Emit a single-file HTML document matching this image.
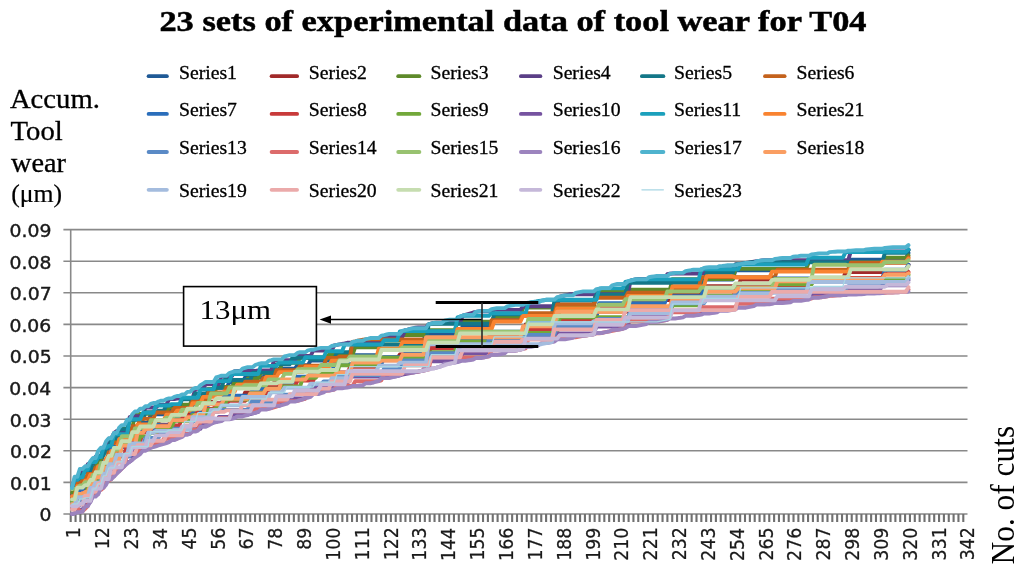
<!DOCTYPE html><html><head><meta charset="utf-8"><style>html,body{margin:0;padding:0;background:#fff;overflow:hidden;}svg{display:block;filter:blur(0.4px);}</style></head><body>
<svg width="1024" height="572" viewBox="0 0 1024 572">
<rect width="1024" height="572" fill="#fff"/>
<text transform="translate(159.44,31.30) scale(1.1454,1)" font-family='"Liberation Serif", "Times New Roman", serif' font-weight="bold" font-size="30.00" fill="#000" stroke="#000" stroke-width="0.5">23 sets of experimental data of tool wear for T04</text>
<line x1="148.6" y1="76.2" x2="166.9" y2="76.2" stroke="#1F5A96" stroke-width="3.8" stroke-linecap="round"/>
<text transform="translate(178.97,79.00) scale(1.0650,1)" font-family='"Liberation Serif", "Times New Roman", serif' font-size="18.50" fill="#000" stroke="#000" stroke-width="0.3">Series1</text>
<line x1="271.6" y1="76.2" x2="297.09999999999997" y2="76.2" stroke="#A12A2A" stroke-width="3.8" stroke-linecap="round"/>
<text transform="translate(308.87,79.00) scale(1.0650,1)" font-family='"Liberation Serif", "Times New Roman", serif' font-size="18.50" fill="#000" stroke="#000" stroke-width="0.3">Series2</text>
<line x1="398.20000000000005" y1="76.2" x2="419.4" y2="76.2" stroke="#5E8A2A" stroke-width="3.8" stroke-linecap="round"/>
<text transform="translate(430.57,79.00) scale(1.0650,1)" font-family='"Liberation Serif", "Times New Roman", serif' font-size="18.50" fill="#000" stroke="#000" stroke-width="0.3">Series3</text>
<line x1="520.9" y1="76.2" x2="540.4" y2="76.2" stroke="#5B3F87" stroke-width="3.8" stroke-linecap="round"/>
<text transform="translate(552.67,79.00) scale(1.0650,1)" font-family='"Liberation Serif", "Times New Roman", serif' font-size="18.50" fill="#000" stroke="#000" stroke-width="0.3">Series4</text>
<line x1="641.9" y1="76.2" x2="663.4" y2="76.2" stroke="#137788" stroke-width="3.8" stroke-linecap="round"/>
<text transform="translate(674.07,79.00) scale(1.0650,1)" font-family='"Liberation Serif", "Times New Roman", serif' font-size="18.50" fill="#000" stroke="#000" stroke-width="0.3">Series5</text>
<line x1="765.0" y1="76.2" x2="784.6" y2="76.2" stroke="#C4621C" stroke-width="3.8" stroke-linecap="round"/>
<text transform="translate(796.47,79.00) scale(1.0650,1)" font-family='"Liberation Serif", "Times New Roman", serif' font-size="18.50" fill="#000" stroke="#000" stroke-width="0.3">Series6</text>
<line x1="148.6" y1="113.9" x2="166.9" y2="113.9" stroke="#2A6EBB" stroke-width="3.8" stroke-linecap="round"/>
<text transform="translate(178.97,115.80) scale(1.0650,1)" font-family='"Liberation Serif", "Times New Roman", serif' font-size="18.50" fill="#000" stroke="#000" stroke-width="0.3">Series7</text>
<line x1="271.6" y1="113.9" x2="297.09999999999997" y2="113.9" stroke="#C83A3A" stroke-width="3.8" stroke-linecap="round"/>
<text transform="translate(308.87,115.80) scale(1.0650,1)" font-family='"Liberation Serif", "Times New Roman", serif' font-size="18.50" fill="#000" stroke="#000" stroke-width="0.3">Series8</text>
<line x1="398.20000000000005" y1="113.9" x2="419.4" y2="113.9" stroke="#72A83A" stroke-width="3.8" stroke-linecap="round"/>
<text transform="translate(430.57,115.80) scale(1.0650,1)" font-family='"Liberation Serif", "Times New Roman", serif' font-size="18.50" fill="#000" stroke="#000" stroke-width="0.3">Series9</text>
<line x1="520.9" y1="113.9" x2="540.4" y2="113.9" stroke="#7653A0" stroke-width="3.8" stroke-linecap="round"/>
<text transform="translate(552.67,115.80) scale(1.0650,1)" font-family='"Liberation Serif", "Times New Roman", serif' font-size="18.50" fill="#000" stroke="#000" stroke-width="0.3">Series10</text>
<line x1="641.9" y1="113.9" x2="663.4" y2="113.9" stroke="#1BA0BC" stroke-width="3.8" stroke-linecap="round"/>
<text transform="translate(674.07,115.80) scale(1.0650,1)" font-family='"Liberation Serif", "Times New Roman", serif' font-size="18.50" fill="#000" stroke="#000" stroke-width="0.3">Series11</text>
<line x1="765.0" y1="113.9" x2="784.6" y2="113.9" stroke="#F98330" stroke-width="3.8" stroke-linecap="round"/>
<text transform="translate(796.47,115.80) scale(1.0650,1)" font-family='"Liberation Serif", "Times New Roman", serif' font-size="18.50" fill="#000" stroke="#000" stroke-width="0.3">Series21</text>
<line x1="148.6" y1="152" x2="166.9" y2="152" stroke="#5A8AC6" stroke-width="3.8" stroke-linecap="round"/>
<text transform="translate(178.97,154.40) scale(1.0650,1)" font-family='"Liberation Serif", "Times New Roman", serif' font-size="18.50" fill="#000" stroke="#000" stroke-width="0.3">Series13</text>
<line x1="271.6" y1="152" x2="297.09999999999997" y2="152" stroke="#DC6B6B" stroke-width="3.8" stroke-linecap="round"/>
<text transform="translate(308.87,154.40) scale(1.0650,1)" font-family='"Liberation Serif", "Times New Roman", serif' font-size="18.50" fill="#000" stroke="#000" stroke-width="0.3">Series14</text>
<line x1="398.20000000000005" y1="152" x2="419.4" y2="152" stroke="#98C270" stroke-width="3.8" stroke-linecap="round"/>
<text transform="translate(430.57,154.40) scale(1.0650,1)" font-family='"Liberation Serif", "Times New Roman", serif' font-size="18.50" fill="#000" stroke="#000" stroke-width="0.3">Series15</text>
<line x1="520.9" y1="152" x2="540.4" y2="152" stroke="#9C84BE" stroke-width="3.8" stroke-linecap="round"/>
<text transform="translate(552.67,154.40) scale(1.0650,1)" font-family='"Liberation Serif", "Times New Roman", serif' font-size="18.50" fill="#000" stroke="#000" stroke-width="0.3">Series16</text>
<line x1="641.9" y1="152" x2="663.4" y2="152" stroke="#4FB3CE" stroke-width="3.8" stroke-linecap="round"/>
<text transform="translate(674.07,154.40) scale(1.0650,1)" font-family='"Liberation Serif", "Times New Roman", serif' font-size="18.50" fill="#000" stroke="#000" stroke-width="0.3">Series17</text>
<line x1="765.0" y1="152" x2="784.6" y2="152" stroke="#FA9E62" stroke-width="3.8" stroke-linecap="round"/>
<text transform="translate(796.47,154.40) scale(1.0650,1)" font-family='"Liberation Serif", "Times New Roman", serif' font-size="18.50" fill="#000" stroke="#000" stroke-width="0.3">Series18</text>
<line x1="148.6" y1="189.8" x2="166.9" y2="189.8" stroke="#A4BCDE" stroke-width="3.8" stroke-linecap="round"/>
<text transform="translate(178.97,197.00) scale(1.0650,1)" font-family='"Liberation Serif", "Times New Roman", serif' font-size="18.50" fill="#000" stroke="#000" stroke-width="0.3">Series19</text>
<line x1="271.6" y1="189.8" x2="297.09999999999997" y2="189.8" stroke="#EBAAAA" stroke-width="3.8" stroke-linecap="round"/>
<text transform="translate(308.87,197.00) scale(1.0650,1)" font-family='"Liberation Serif", "Times New Roman", serif' font-size="18.50" fill="#000" stroke="#000" stroke-width="0.3">Series20</text>
<line x1="398.20000000000005" y1="189.8" x2="419.4" y2="189.8" stroke="#C6DDB0" stroke-width="3.8" stroke-linecap="round"/>
<text transform="translate(430.57,197.00) scale(1.0650,1)" font-family='"Liberation Serif", "Times New Roman", serif' font-size="18.50" fill="#000" stroke="#000" stroke-width="0.3">Series21</text>
<line x1="520.9" y1="189.8" x2="540.4" y2="189.8" stroke="#C5B8D9" stroke-width="3.8" stroke-linecap="round"/>
<text transform="translate(552.67,197.00) scale(1.0650,1)" font-family='"Liberation Serif", "Times New Roman", serif' font-size="18.50" fill="#000" stroke="#000" stroke-width="0.3">Series22</text>
<line x1="641.9" y1="189.8" x2="663.4" y2="189.8" stroke="#A8D6E4" stroke-width="1.2" stroke-linecap="round"/>
<text transform="translate(674.07,197.00) scale(1.0650,1)" font-family='"Liberation Serif", "Times New Roman", serif' font-size="18.50" fill="#000" stroke="#000" stroke-width="0.3">Series23</text>
<text transform="translate(9.91,108.30) scale(1.0550,1)" font-family='"Liberation Serif", "Times New Roman", serif' font-size="27.20" fill="#000" stroke="#000" stroke-width="0.3">Accum.</text>
<text transform="translate(10.60,140.10) scale(1.0550,1)" font-family='"Liberation Serif", "Times New Roman", serif' font-size="27.20" fill="#000" stroke="#000" stroke-width="0.3">Tool</text>
<text transform="translate(11.10,172.00) scale(1.0400,1)" font-family='"Liberation Serif", "Times New Roman", serif' font-size="27.20" fill="#000" stroke="#000" stroke-width="0.3">wear</text>
<text transform="translate(11.21,201.50) scale(1.0554,1)" font-family='"Liberation Serif", "Times New Roman", serif' font-size="24.40" fill="#000" stroke="#000" stroke-width="0.2">(μm)</text>
<line x1="63.4" y1="514.00" x2="967.50" y2="514.00" stroke="#898989" stroke-width="1.6"/>
<line x1="63.4" y1="482.40" x2="967.50" y2="482.40" stroke="#898989" stroke-width="1.6"/>
<line x1="63.4" y1="450.80" x2="967.50" y2="450.80" stroke="#898989" stroke-width="1.6"/>
<line x1="63.4" y1="419.20" x2="967.50" y2="419.20" stroke="#898989" stroke-width="1.6"/>
<line x1="63.4" y1="387.60" x2="967.50" y2="387.60" stroke="#898989" stroke-width="1.6"/>
<line x1="63.4" y1="356.00" x2="967.50" y2="356.00" stroke="#898989" stroke-width="1.6"/>
<line x1="63.4" y1="324.40" x2="967.50" y2="324.40" stroke="#898989" stroke-width="1.6"/>
<line x1="63.4" y1="292.80" x2="967.50" y2="292.80" stroke="#898989" stroke-width="1.6"/>
<line x1="63.4" y1="261.20" x2="967.50" y2="261.20" stroke="#898989" stroke-width="1.6"/>
<line x1="63.4" y1="229.60" x2="967.50" y2="229.60" stroke="#898989" stroke-width="1.6"/>
<line x1="70.7" y1="229.60" x2="70.7" y2="514.0" stroke="#898989" stroke-width="1.6"/>
<path d="M70.70 514.0V522M75.55 514.0V522M80.40 514.0V522M85.25 514.0V522M90.10 514.0V522M94.96 514.0V522M99.81 514.0V522M104.66 514.0V522M109.51 514.0V522M114.36 514.0V522M119.21 514.0V522M124.06 514.0V522M128.91 514.0V522M133.76 514.0V522M138.62 514.0V522M143.47 514.0V522M148.32 514.0V522M153.17 514.0V522M158.02 514.0V522M162.87 514.0V522M167.72 514.0V522M172.57 514.0V522M177.42 514.0V522M182.28 514.0V522M187.13 514.0V522M191.98 514.0V522M196.83 514.0V522M201.68 514.0V522M206.53 514.0V522M211.38 514.0V522M216.23 514.0V522M221.08 514.0V522M225.94 514.0V522M230.79 514.0V522M235.64 514.0V522M240.49 514.0V522M245.34 514.0V522M250.19 514.0V522M255.04 514.0V522M259.89 514.0V522M264.74 514.0V522M269.60 514.0V522M274.45 514.0V522M279.30 514.0V522M284.15 514.0V522M289.00 514.0V522M293.85 514.0V522M298.70 514.0V522M303.55 514.0V522M308.40 514.0V522M313.26 514.0V522M318.11 514.0V522M322.96 514.0V522M327.81 514.0V522M332.66 514.0V522M337.51 514.0V522M342.36 514.0V522M347.21 514.0V522M352.06 514.0V522M356.92 514.0V522M361.77 514.0V522M366.62 514.0V522M371.47 514.0V522M376.32 514.0V522M381.17 514.0V522M386.02 514.0V522M390.87 514.0V522M395.72 514.0V522M400.58 514.0V522M405.43 514.0V522M410.28 514.0V522M415.13 514.0V522M419.98 514.0V522M424.83 514.0V522M429.68 514.0V522M434.53 514.0V522M439.38 514.0V522M444.24 514.0V522M449.09 514.0V522M453.94 514.0V522M458.79 514.0V522M463.64 514.0V522M468.49 514.0V522M473.34 514.0V522M478.19 514.0V522M483.04 514.0V522M487.90 514.0V522M492.75 514.0V522M497.60 514.0V522M502.45 514.0V522M507.30 514.0V522M512.15 514.0V522M517.00 514.0V522M521.85 514.0V522M526.70 514.0V522M531.56 514.0V522M536.41 514.0V522M541.26 514.0V522M546.11 514.0V522M550.96 514.0V522M555.81 514.0V522M560.66 514.0V522M565.51 514.0V522M570.36 514.0V522M575.22 514.0V522M580.07 514.0V522M584.92 514.0V522M589.77 514.0V522M594.62 514.0V522M599.47 514.0V522M604.32 514.0V522M609.17 514.0V522M614.02 514.0V522M618.88 514.0V522M623.73 514.0V522M628.58 514.0V522M633.43 514.0V522M638.28 514.0V522M643.13 514.0V522M647.98 514.0V522M652.83 514.0V522M657.68 514.0V522M662.54 514.0V522M667.39 514.0V522M672.24 514.0V522M677.09 514.0V522M681.94 514.0V522M686.79 514.0V522M691.64 514.0V522M696.49 514.0V522M701.34 514.0V522M706.20 514.0V522M711.05 514.0V522M715.90 514.0V522M720.75 514.0V522M725.60 514.0V522M730.45 514.0V522M735.30 514.0V522M740.15 514.0V522M745.00 514.0V522M749.86 514.0V522M754.71 514.0V522M759.56 514.0V522M764.41 514.0V522M769.26 514.0V522M774.11 514.0V522M778.96 514.0V522M783.81 514.0V522M788.66 514.0V522M793.52 514.0V522M798.37 514.0V522M803.22 514.0V522M808.07 514.0V522M812.92 514.0V522M817.77 514.0V522M822.62 514.0V522M827.47 514.0V522M832.32 514.0V522M837.18 514.0V522M842.03 514.0V522M846.88 514.0V522M851.73 514.0V522M856.58 514.0V522M861.43 514.0V522M866.28 514.0V522M871.13 514.0V522M875.98 514.0V522M880.84 514.0V522M885.69 514.0V522M890.54 514.0V522M895.39 514.0V522M900.24 514.0V522M905.09 514.0V522M909.94 514.0V522M914.79 514.0V522M919.64 514.0V522M924.50 514.0V522M929.35 514.0V522M934.20 514.0V522M939.05 514.0V522M943.90 514.0V522M948.75 514.0V522M953.60 514.0V522M958.45 514.0V522M963.30 514.0V522" stroke="#707070" stroke-width="2.1" fill="none"/>
<text transform="translate(39.38,521.32) scale(1.1000,1)" font-family='"DejaVu Sans", Verdana, sans-serif' font-size="17.10" fill="#1a1a1a" stroke="#1a1a1a" stroke-width="0.4">0</text>
<text transform="translate(9.94,489.72) scale(1.1000,1)" font-family='"DejaVu Sans", Verdana, sans-serif' font-size="17.10" fill="#1a1a1a" stroke="#1a1a1a" stroke-width="0.4">0.01</text>
<text transform="translate(10.08,458.12) scale(1.1000,1)" font-family='"DejaVu Sans", Verdana, sans-serif' font-size="17.10" fill="#1a1a1a" stroke="#1a1a1a" stroke-width="0.4">0.02</text>
<text transform="translate(9.71,426.52) scale(1.1000,1)" font-family='"DejaVu Sans", Verdana, sans-serif' font-size="17.10" fill="#1a1a1a" stroke="#1a1a1a" stroke-width="0.4">0.03</text>
<text transform="translate(9.28,394.92) scale(1.1000,1)" font-family='"DejaVu Sans", Verdana, sans-serif' font-size="17.10" fill="#1a1a1a" stroke="#1a1a1a" stroke-width="0.4">0.04</text>
<text transform="translate(9.85,363.32) scale(1.1000,1)" font-family='"DejaVu Sans", Verdana, sans-serif' font-size="17.10" fill="#1a1a1a" stroke="#1a1a1a" stroke-width="0.4">0.05</text>
<text transform="translate(9.42,331.72) scale(1.1000,1)" font-family='"DejaVu Sans", Verdana, sans-serif' font-size="17.10" fill="#1a1a1a" stroke="#1a1a1a" stroke-width="0.4">0.06</text>
<text transform="translate(9.85,300.12) scale(1.1000,1)" font-family='"DejaVu Sans", Verdana, sans-serif' font-size="17.10" fill="#1a1a1a" stroke="#1a1a1a" stroke-width="0.4">0.07</text>
<text transform="translate(9.52,268.52) scale(1.1000,1)" font-family='"DejaVu Sans", Verdana, sans-serif' font-size="17.10" fill="#1a1a1a" stroke="#1a1a1a" stroke-width="0.4">0.08</text>
<text transform="translate(9.56,236.92) scale(1.1000,1)" font-family='"DejaVu Sans", Verdana, sans-serif' font-size="17.10" fill="#1a1a1a" stroke="#1a1a1a" stroke-width="0.4">0.09</text>
<text transform="translate(80.31,538.29) rotate(-90) scale(0.916,1)" font-family='"DejaVu Sans", Verdana, sans-serif' font-size="19.0" fill="#1a1a1a" stroke="#1a1a1a" stroke-width="0.25">1</text>
<text transform="translate(109.16,549.25) rotate(-90) scale(0.916,1)" font-family='"DejaVu Sans", Verdana, sans-serif' font-size="19.0" fill="#1a1a1a" stroke="#1a1a1a" stroke-width="0.25">12</text>
<text transform="translate(138.00,549.60) rotate(-90) scale(0.916,1)" font-family='"DejaVu Sans", Verdana, sans-serif' font-size="19.0" fill="#1a1a1a" stroke="#1a1a1a" stroke-width="0.25">23</text>
<text transform="translate(166.84,549.99) rotate(-90) scale(0.916,1)" font-family='"DejaVu Sans", Verdana, sans-serif' font-size="19.0" fill="#1a1a1a" stroke="#1a1a1a" stroke-width="0.25">34</text>
<text transform="translate(195.69,549.47) rotate(-90) scale(0.916,1)" font-family='"DejaVu Sans", Verdana, sans-serif' font-size="19.0" fill="#1a1a1a" stroke="#1a1a1a" stroke-width="0.25">45</text>
<text transform="translate(224.53,549.86) rotate(-90) scale(0.916,1)" font-family='"DejaVu Sans", Verdana, sans-serif' font-size="19.0" fill="#1a1a1a" stroke="#1a1a1a" stroke-width="0.25">56</text>
<text transform="translate(253.38,549.47) rotate(-90) scale(0.916,1)" font-family='"DejaVu Sans", Verdana, sans-serif' font-size="19.0" fill="#1a1a1a" stroke="#1a1a1a" stroke-width="0.25">67</text>
<text transform="translate(282.22,549.77) rotate(-90) scale(0.916,1)" font-family='"DejaVu Sans", Verdana, sans-serif' font-size="19.0" fill="#1a1a1a" stroke="#1a1a1a" stroke-width="0.25">78</text>
<text transform="translate(311.07,549.73) rotate(-90) scale(0.916,1)" font-family='"DejaVu Sans", Verdana, sans-serif' font-size="19.0" fill="#1a1a1a" stroke="#1a1a1a" stroke-width="0.25">89</text>
<text transform="translate(339.91,560.87) rotate(-90) scale(0.916,1)" font-family='"DejaVu Sans", Verdana, sans-serif' font-size="19.0" fill="#1a1a1a" stroke="#1a1a1a" stroke-width="0.25">100</text>
<text transform="translate(368.76,560.43) rotate(-90) scale(0.916,1)" font-family='"DejaVu Sans", Verdana, sans-serif' font-size="19.0" fill="#1a1a1a" stroke="#1a1a1a" stroke-width="0.25">111</text>
<text transform="translate(397.60,560.30) rotate(-90) scale(0.916,1)" font-family='"DejaVu Sans", Verdana, sans-serif' font-size="19.0" fill="#1a1a1a" stroke="#1a1a1a" stroke-width="0.25">122</text>
<text transform="translate(426.44,560.65) rotate(-90) scale(0.916,1)" font-family='"DejaVu Sans", Verdana, sans-serif' font-size="19.0" fill="#1a1a1a" stroke="#1a1a1a" stroke-width="0.25">133</text>
<text transform="translate(455.29,561.04) rotate(-90) scale(0.916,1)" font-family='"DejaVu Sans", Verdana, sans-serif' font-size="19.0" fill="#1a1a1a" stroke="#1a1a1a" stroke-width="0.25">144</text>
<text transform="translate(484.13,560.52) rotate(-90) scale(0.916,1)" font-family='"DejaVu Sans", Verdana, sans-serif' font-size="19.0" fill="#1a1a1a" stroke="#1a1a1a" stroke-width="0.25">155</text>
<text transform="translate(512.98,560.91) rotate(-90) scale(0.916,1)" font-family='"DejaVu Sans", Verdana, sans-serif' font-size="19.0" fill="#1a1a1a" stroke="#1a1a1a" stroke-width="0.25">166</text>
<text transform="translate(541.82,560.52) rotate(-90) scale(0.916,1)" font-family='"DejaVu Sans", Verdana, sans-serif' font-size="19.0" fill="#1a1a1a" stroke="#1a1a1a" stroke-width="0.25">177</text>
<text transform="translate(570.67,560.82) rotate(-90) scale(0.916,1)" font-family='"DejaVu Sans", Verdana, sans-serif' font-size="19.0" fill="#1a1a1a" stroke="#1a1a1a" stroke-width="0.25">188</text>
<text transform="translate(599.51,560.78) rotate(-90) scale(0.916,1)" font-family='"DejaVu Sans", Verdana, sans-serif' font-size="19.0" fill="#1a1a1a" stroke="#1a1a1a" stroke-width="0.25">199</text>
<text transform="translate(628.36,560.87) rotate(-90) scale(0.916,1)" font-family='"DejaVu Sans", Verdana, sans-serif' font-size="19.0" fill="#1a1a1a" stroke="#1a1a1a" stroke-width="0.25">210</text>
<text transform="translate(657.20,560.43) rotate(-90) scale(0.916,1)" font-family='"DejaVu Sans", Verdana, sans-serif' font-size="19.0" fill="#1a1a1a" stroke="#1a1a1a" stroke-width="0.25">221</text>
<text transform="translate(686.04,560.30) rotate(-90) scale(0.916,1)" font-family='"DejaVu Sans", Verdana, sans-serif' font-size="19.0" fill="#1a1a1a" stroke="#1a1a1a" stroke-width="0.25">232</text>
<text transform="translate(714.89,560.65) rotate(-90) scale(0.916,1)" font-family='"DejaVu Sans", Verdana, sans-serif' font-size="19.0" fill="#1a1a1a" stroke="#1a1a1a" stroke-width="0.25">243</text>
<text transform="translate(743.73,561.04) rotate(-90) scale(0.916,1)" font-family='"DejaVu Sans", Verdana, sans-serif' font-size="19.0" fill="#1a1a1a" stroke="#1a1a1a" stroke-width="0.25">254</text>
<text transform="translate(772.58,560.52) rotate(-90) scale(0.916,1)" font-family='"DejaVu Sans", Verdana, sans-serif' font-size="19.0" fill="#1a1a1a" stroke="#1a1a1a" stroke-width="0.25">265</text>
<text transform="translate(801.42,560.91) rotate(-90) scale(0.916,1)" font-family='"DejaVu Sans", Verdana, sans-serif' font-size="19.0" fill="#1a1a1a" stroke="#1a1a1a" stroke-width="0.25">276</text>
<text transform="translate(830.27,560.52) rotate(-90) scale(0.916,1)" font-family='"DejaVu Sans", Verdana, sans-serif' font-size="19.0" fill="#1a1a1a" stroke="#1a1a1a" stroke-width="0.25">287</text>
<text transform="translate(859.11,560.82) rotate(-90) scale(0.916,1)" font-family='"DejaVu Sans", Verdana, sans-serif' font-size="19.0" fill="#1a1a1a" stroke="#1a1a1a" stroke-width="0.25">298</text>
<text transform="translate(887.96,560.78) rotate(-90) scale(0.916,1)" font-family='"DejaVu Sans", Verdana, sans-serif' font-size="19.0" fill="#1a1a1a" stroke="#1a1a1a" stroke-width="0.25">309</text>
<text transform="translate(916.80,560.87) rotate(-90) scale(0.916,1)" font-family='"DejaVu Sans", Verdana, sans-serif' font-size="19.0" fill="#1a1a1a" stroke="#1a1a1a" stroke-width="0.25">320</text>
<text transform="translate(945.64,560.43) rotate(-90) scale(0.916,1)" font-family='"DejaVu Sans", Verdana, sans-serif' font-size="19.0" fill="#1a1a1a" stroke="#1a1a1a" stroke-width="0.25">331</text>
<text transform="translate(974.49,560.30) rotate(-90) scale(0.916,1)" font-family='"DejaVu Sans", Verdana, sans-serif' font-size="19.0" fill="#1a1a1a" stroke="#1a1a1a" stroke-width="0.25">342</text>
<text transform="translate(1014.2,564.46) rotate(-90) scale(0.937,1)" font-family='"Liberation Serif", "Times New Roman", serif' font-size="33.5" fill="#000">No. of cuts</text>
<path d="M72.0 495.0 L74.6 495.0 L77.3 485.1 L79.9 485.1 L82.5 480.4 L85.1 480.4 L87.7 480.4 L90.4 474.4 L93.0 474.4 L95.6 463.6 L98.2 463.6 L100.9 463.6 L103.5 451.7 L106.1 451.7 L108.7 451.7 L111.3 447.1 L114.0 447.1 L116.6 447.1 L119.2 447.1 L121.8 432.4 L124.5 432.4 L127.1 432.4 L129.7 432.4 L132.3 432.4 L134.9 432.4 L137.6 432.4 L140.2 423.0 L142.8 423.0 L145.4 423.0 L148.1 423.0 L150.7 414.2 L153.3 414.2 L155.9 414.2 L158.5 414.2 L161.2 414.2 L163.8 414.2 L166.4 414.2 L169.0 409.3 L171.7 409.3 L174.3 409.3 L176.9 409.3 L179.5 409.3 L182.1 409.3 L184.8 405.5 L187.4 405.5 L190.0 405.5 L192.6 405.5 L195.3 398.9 L197.9 398.9 L200.5 398.9 L203.1 396.2 L205.7 396.2 L208.4 396.2 L211.0 396.2 L213.6 387.9 L216.2 387.9 L218.9 387.9 L221.5 387.9 L224.1 387.9 L226.7 387.9 L229.3 382.3 L232.0 382.3 L234.6 382.3 L237.2 382.3 L239.8 382.3 L242.5 382.3 L245.1 377.3 L247.7 377.3 L250.3 377.3 L252.9 377.3 L255.6 377.3 L258.2 377.3 L260.8 377.3 L263.4 377.3 L266.1 373.3 L268.7 373.3 L271.3 373.3 L273.9 373.3 L276.5 373.3 L279.2 368.7 L281.8 368.7 L284.4 368.7 L287.0 368.7 L289.7 368.7 L292.3 368.7 L294.9 368.7 L297.5 365.2 L300.1 365.2 L302.8 365.2 L305.4 365.2 L308.0 365.2 L310.6 360.5 L313.3 360.5 L315.9 360.5 L318.5 360.5 L321.1 360.5 L323.7 360.5 L326.4 360.5 L329.0 360.5 L331.6 360.5 L334.2 360.5 L336.9 360.5 L339.5 356.3 L342.1 356.3 L344.7 356.3 L347.3 356.3 L350.0 356.3 L352.6 355.1 L355.2 355.1 L357.8 355.1 L360.5 355.1 L363.1 355.1 L365.7 355.1 L368.3 355.1 L370.9 355.1 L373.6 355.1 L376.2 355.1 L378.8 355.1 L381.4 348.6 L384.1 348.6 L386.7 348.6 L389.3 348.6 L391.9 348.6 L394.5 348.6 L397.2 348.6 L399.8 348.6 L402.4 348.6 L405.0 340.1 L407.7 340.1 L410.3 340.1 L412.9 340.1 L415.5 340.1 L418.1 340.1 L420.8 340.1 L423.4 340.1 L426.0 334.8 L428.6 334.8 L431.3 334.8 L433.9 334.8 L436.5 334.8 L439.1 334.8 L441.7 334.8 L444.4 334.8 L447.0 334.8 L449.6 334.8 L452.2 334.8 L454.9 334.8 L457.5 334.8 L460.1 334.8 L462.7 325.8 L465.3 325.8 L468.0 325.8 L470.6 325.8 L473.2 325.8 L475.8 325.8 L478.5 325.8 L481.1 325.8 L483.7 325.8 L486.3 325.8 L488.9 325.8 L491.6 325.8 L494.2 318.8 L496.8 318.8 L499.4 318.8 L502.1 318.8 L504.7 318.8 L507.3 318.8 L509.9 318.8 L512.5 318.8 L515.2 318.8 L517.8 318.8 L520.4 318.8 L523.0 315.7 L525.7 315.7 L528.3 315.7 L530.9 315.7 L533.5 315.7 L536.1 315.7 L538.8 315.7 L541.4 315.7 L544.0 315.7 L546.6 315.7 L549.3 315.7 L551.9 315.7 L554.5 315.7 L557.1 305.2 L559.7 305.2 L562.4 305.2 L565.0 305.2 L567.6 305.2 L570.2 305.2 L572.9 305.2 L575.5 305.2 L578.1 305.2 L580.7 305.2 L583.3 305.2 L586.0 305.2 L588.6 305.2 L591.2 305.2 L593.8 305.2 L596.5 290.8 L599.1 290.8 L601.7 290.8 L604.3 290.8 L606.9 290.8 L609.6 290.8 L612.2 290.8 L614.8 290.8 L617.4 290.8 L620.1 290.8 L622.7 290.8 L625.3 290.8 L627.9 290.8 L630.5 290.8 L633.2 290.8 L635.8 290.8 L638.4 290.8 L641.0 290.8 L643.7 290.8 L646.3 290.8 L648.9 290.8 L651.5 290.8 L654.1 290.8 L656.8 290.8 L659.4 290.8 L662.0 290.8 L664.6 290.8 L667.3 290.8 L669.9 290.8 L672.5 290.8 L675.1 290.8 L677.7 290.8 L680.4 290.8 L683.0 290.8 L685.6 290.8 L688.2 290.8 L690.9 290.8 L693.5 290.8 L696.1 290.8 L698.7 290.8 L701.3 279.5 L704.0 279.5 L706.6 279.5 L709.2 279.5 L711.8 279.5 L714.5 279.5 L717.1 279.5 L719.7 279.5 L722.3 279.5 L724.9 279.5 L727.6 279.5 L730.2 279.5 L732.8 279.5 L735.4 270.3 L738.1 270.3 L740.7 270.3 L743.3 270.3 L745.9 270.3 L748.5 270.3 L751.2 270.3 L753.8 270.3 L756.4 270.3 L759.0 270.3 L761.7 270.3 L764.3 270.3 L766.9 270.3 L769.5 270.3 L772.1 270.3 L774.8 270.3 L777.4 270.3 L780.0 270.3 L782.6 270.3 L785.3 270.3 L787.9 270.3 L790.5 270.3 L793.1 270.3 L795.7 270.3 L798.4 270.3 L801.0 270.3 L803.6 270.3 L806.2 270.3 L808.9 270.3 L811.5 270.3 L814.1 270.3 L816.7 270.3 L819.3 270.3 L822.0 270.3 L824.6 270.3 L827.2 270.3 L829.8 270.3 L832.5 270.3 L835.1 270.3 L837.7 270.3 L840.3 270.3 L842.9 270.3 L845.6 270.3 L848.2 270.3 L850.8 259.8 L853.4 259.8 L856.1 259.8 L858.7 259.8 L861.3 259.8 L863.9 259.8 L866.5 259.8 L869.2 259.8 L871.8 259.8 L874.4 259.8 L877.0 259.8 L879.7 259.8 L882.3 259.8 L884.9 259.8 L887.5 258.5 L890.1 258.5 L892.8 258.5 L895.4 258.5 L898.0 258.5 L900.6 258.5 L903.3 258.5 L905.9 258.5 L908.5 253.0" stroke="#1F5A96" stroke-width="3.9" fill="none" stroke-linejoin="round" stroke-linecap="round"/>
<path d="M72.0 495.5 L74.6 495.5 L77.3 495.5 L79.9 488.8 L82.5 488.8 L85.1 488.8 L87.7 480.0 L90.4 480.0 L93.0 480.0 L95.6 473.6 L98.2 473.6 L100.9 473.6 L103.5 462.5 L106.1 462.5 L108.7 462.5 L111.3 453.1 L114.0 453.1 L116.6 453.1 L119.2 443.3 L121.8 443.3 L124.5 443.3 L127.1 443.3 L129.7 443.3 L132.3 431.7 L134.9 431.7 L137.6 431.7 L140.2 431.7 L142.8 431.7 L145.4 431.7 L148.1 431.7 L150.7 423.5 L153.3 423.5 L155.9 423.5 L158.5 423.5 L161.2 424.7 L163.8 424.7 L166.4 424.7 L169.0 424.7 L171.7 417.5 L174.3 417.5 L176.9 417.5 L179.5 417.5 L182.1 417.5 L184.8 417.5 L187.4 417.5 L190.0 411.8 L192.6 411.8 L195.3 411.8 L197.9 411.8 L200.5 411.8 L203.1 411.8 L205.7 401.6 L208.4 401.6 L211.0 401.6 L213.6 401.6 L216.2 404.2 L218.9 404.2 L221.5 404.2 L224.1 399.1 L226.7 399.1 L229.3 399.1 L232.0 399.1 L234.6 399.1 L237.2 399.1 L239.8 399.1 L242.5 399.1 L245.1 392.5 L247.7 392.5 L250.3 392.5 L252.9 392.5 L255.6 392.5 L258.2 392.5 L260.8 392.5 L263.4 392.5 L266.1 392.5 L268.7 392.5 L271.3 392.5 L273.9 382.7 L276.5 382.7 L279.2 382.7 L281.8 382.7 L284.4 382.7 L287.0 382.7 L289.7 382.7 L292.3 382.7 L294.9 378.3 L297.5 378.3 L300.1 378.3 L302.8 378.3 L305.4 378.3 L308.0 378.3 L310.6 372.1 L313.3 372.1 L315.9 372.1 L318.5 372.1 L321.1 372.1 L323.7 372.1 L326.4 372.1 L329.0 372.1 L331.6 372.5 L334.2 372.5 L336.9 372.5 L339.5 372.5 L342.1 372.5 L344.7 372.5 L347.3 372.5 L350.0 372.5 L352.6 363.0 L355.2 363.0 L357.8 363.0 L360.5 363.0 L363.1 363.0 L365.7 363.0 L368.3 363.0 L370.9 363.0 L373.6 363.0 L376.2 363.0 L378.8 363.0 L381.4 358.7 L384.1 358.7 L386.7 358.7 L389.3 358.7 L391.9 358.7 L394.5 358.7 L397.2 358.7 L399.8 354.5 L402.4 354.5 L405.0 354.5 L407.7 354.5 L410.3 354.5 L412.9 354.5 L415.5 354.5 L418.1 354.5 L420.8 354.5 L423.4 354.5 L426.0 354.5 L428.6 354.5 L431.3 346.4 L433.9 346.4 L436.5 346.4 L439.1 346.4 L441.7 346.4 L444.4 346.4 L447.0 346.4 L449.6 346.4 L452.2 346.4 L454.9 346.4 L457.5 340.3 L460.1 340.3 L462.7 340.3 L465.3 340.3 L468.0 340.3 L470.6 340.3 L473.2 340.3 L475.8 340.3 L478.5 340.3 L481.1 340.3 L483.7 340.3 L486.3 340.3 L488.9 340.3 L491.6 334.4 L494.2 334.4 L496.8 334.4 L499.4 334.4 L502.1 334.4 L504.7 334.4 L507.3 334.4 L509.9 334.4 L512.5 334.4 L515.2 334.4 L517.8 334.4 L520.4 334.4 L523.0 334.4 L525.7 324.5 L528.3 324.5 L530.9 324.5 L533.5 324.5 L536.1 324.5 L538.8 324.5 L541.4 324.5 L544.0 324.5 L546.6 324.5 L549.3 324.5 L551.9 324.5 L554.5 324.5 L557.1 324.5 L559.7 317.7 L562.4 317.7 L565.0 317.7 L567.6 317.7 L570.2 317.7 L572.9 317.7 L575.5 317.7 L578.1 317.7 L580.7 317.7 L583.3 317.7 L586.0 317.7 L588.6 317.7 L591.2 317.7 L593.8 311.5 L596.5 311.5 L599.1 311.5 L601.7 311.5 L604.3 311.5 L606.9 311.5 L609.6 311.5 L612.2 311.5 L614.8 311.5 L617.4 311.5 L620.1 311.5 L622.7 311.5 L625.3 311.5 L627.9 311.5 L630.5 300.0 L633.2 300.0 L635.8 300.0 L638.4 300.0 L641.0 300.0 L643.7 300.0 L646.3 300.0 L648.9 300.0 L651.5 300.0 L654.1 300.0 L656.8 300.0 L659.4 300.0 L662.0 300.0 L664.6 300.0 L667.3 300.0 L669.9 300.0 L672.5 293.1 L675.1 293.1 L677.7 293.1 L680.4 293.1 L683.0 293.1 L685.6 293.1 L688.2 293.1 L690.9 293.1 L693.5 293.1 L696.1 293.1 L698.7 293.1 L701.3 293.1 L704.0 286.2 L706.6 286.2 L709.2 286.2 L711.8 286.2 L714.5 286.2 L717.1 286.2 L719.7 286.2 L722.3 286.2 L724.9 286.2 L727.6 286.2 L730.2 286.2 L732.8 286.2 L735.4 286.2 L738.1 286.2 L740.7 279.6 L743.3 279.6 L745.9 279.6 L748.5 279.6 L751.2 279.6 L753.8 279.6 L756.4 279.6 L759.0 279.6 L761.7 279.6 L764.3 279.6 L766.9 279.6 L769.5 279.6 L772.1 279.6 L774.8 279.6 L777.4 279.6 L780.0 279.6 L782.6 279.6 L785.3 279.6 L787.9 279.6 L790.5 279.6 L793.1 279.6 L795.7 279.6 L798.4 279.6 L801.0 279.6 L803.6 279.6 L806.2 279.6 L808.9 279.6 L811.5 279.6 L814.1 279.6 L816.7 279.6 L819.3 279.6 L822.0 279.6 L824.6 279.6 L827.2 279.6 L829.8 279.6 L832.5 279.6 L835.1 279.6 L837.7 279.6 L840.3 279.6 L842.9 279.6 L845.6 272.0 L848.2 272.0 L850.8 272.0 L853.4 272.0 L856.1 272.0 L858.7 272.0 L861.3 272.0 L863.9 272.0 L866.5 272.0 L869.2 272.0 L871.8 272.0 L874.4 272.0 L877.0 272.0 L879.7 272.0 L882.3 272.0 L884.9 272.0 L887.5 270.2 L890.1 270.2 L892.8 270.2 L895.4 270.2 L898.0 270.2 L900.6 270.2 L903.3 270.2 L905.9 270.2 L908.5 264.8" stroke="#A12A2A" stroke-width="3.9" fill="none" stroke-linejoin="round" stroke-linecap="round"/>
<path d="M72.0 492.8 L74.6 492.8 L77.3 478.2 L79.9 478.2 L82.5 476.9 L85.1 476.9 L87.7 476.9 L90.4 468.3 L93.0 468.3 L95.6 468.3 L98.2 459.5 L100.9 459.5 L103.5 451.1 L106.1 451.1 L108.7 451.1 L111.3 442.0 L114.0 442.0 L116.6 442.0 L119.2 442.0 L121.8 428.8 L124.5 428.8 L127.1 428.8 L129.7 428.8 L132.3 428.8 L134.9 413.9 L137.6 413.9 L140.2 413.9 L142.8 413.9 L145.4 413.9 L148.1 413.9 L150.7 413.9 L153.3 412.0 L155.9 412.0 L158.5 412.0 L161.2 412.0 L163.8 412.0 L166.4 412.0 L169.0 407.4 L171.7 407.4 L174.3 407.4 L176.9 404.6 L179.5 404.6 L182.1 404.6 L184.8 404.6 L187.4 404.6 L190.0 404.6 L192.6 397.6 L195.3 397.6 L197.9 397.6 L200.5 397.6 L203.1 397.6 L205.7 397.6 L208.4 389.0 L211.0 389.0 L213.6 389.0 L216.2 389.0 L218.9 387.0 L221.5 387.0 L224.1 387.0 L226.7 387.0 L229.3 387.0 L232.0 387.0 L234.6 382.1 L237.2 382.1 L239.8 382.1 L242.5 382.1 L245.1 382.1 L247.7 378.4 L250.3 378.4 L252.9 378.4 L255.6 378.4 L258.2 378.4 L260.8 372.9 L263.4 372.9 L266.1 372.9 L268.7 372.9 L271.3 372.9 L273.9 372.9 L276.5 372.9 L279.2 372.9 L281.8 362.9 L284.4 362.9 L287.0 362.9 L289.7 362.9 L292.3 362.9 L294.9 362.9 L297.5 362.9 L300.1 357.5 L302.8 357.5 L305.4 357.5 L308.0 357.5 L310.6 357.5 L313.3 357.5 L315.9 357.5 L318.5 357.5 L321.1 357.5 L323.7 357.5 L326.4 357.5 L329.0 354.6 L331.6 354.6 L334.2 354.6 L336.9 354.6 L339.5 354.6 L342.1 354.6 L344.7 354.6 L347.3 354.6 L350.0 354.6 L352.6 354.6 L355.2 347.2 L357.8 347.2 L360.5 347.2 L363.1 347.2 L365.7 347.2 L368.3 347.2 L370.9 347.2 L373.6 347.2 L376.2 347.2 L378.8 347.2 L381.4 340.6 L384.1 340.6 L386.7 340.6 L389.3 340.6 L391.9 340.6 L394.5 340.6 L397.2 340.6 L399.8 340.6 L402.4 335.0 L405.0 335.0 L407.7 335.0 L410.3 335.0 L412.9 335.0 L415.5 335.0 L418.1 335.0 L420.8 335.0 L423.4 335.0 L426.0 335.0 L428.6 330.3 L431.3 330.3 L433.9 330.3 L436.5 330.3 L439.1 330.3 L441.7 330.3 L444.4 330.3 L447.0 330.3 L449.6 330.3 L452.2 330.3 L454.9 330.3 L457.5 321.8 L460.1 321.8 L462.7 321.8 L465.3 321.8 L468.0 321.8 L470.6 321.8 L473.2 321.8 L475.8 321.8 L478.5 321.8 L481.1 321.8 L483.7 321.8 L486.3 321.8 L488.9 321.8 L491.6 321.8 L494.2 316.3 L496.8 316.3 L499.4 316.3 L502.1 316.3 L504.7 316.3 L507.3 316.3 L509.9 316.3 L512.5 316.3 L515.2 316.3 L517.8 316.3 L520.4 316.3 L523.0 307.5 L525.7 307.5 L528.3 307.5 L530.9 307.5 L533.5 307.5 L536.1 307.5 L538.8 307.5 L541.4 307.5 L544.0 307.5 L546.6 307.5 L549.3 307.5 L551.9 307.5 L554.5 307.5 L557.1 307.5 L559.7 307.5 L562.4 307.5 L565.0 307.5 L567.6 307.5 L570.2 307.5 L572.9 307.5 L575.5 307.5 L578.1 307.5 L580.7 307.5 L583.3 307.5 L586.0 307.5 L588.6 307.5 L591.2 307.5 L593.8 307.5 L596.5 291.2 L599.1 291.2 L601.7 291.2 L604.3 291.2 L606.9 291.2 L609.6 291.2 L612.2 291.2 L614.8 291.2 L617.4 291.2 L620.1 291.2 L622.7 291.2 L625.3 291.2 L627.9 291.2 L630.5 289.7 L633.2 289.7 L635.8 289.7 L638.4 289.7 L641.0 289.7 L643.7 289.7 L646.3 289.7 L648.9 289.7 L651.5 289.7 L654.1 289.7 L656.8 289.7 L659.4 289.7 L662.0 289.7 L664.6 289.7 L667.3 289.7 L669.9 289.7 L672.5 279.1 L675.1 279.1 L677.7 279.1 L680.4 279.1 L683.0 279.1 L685.6 279.1 L688.2 279.1 L690.9 279.1 L693.5 279.1 L696.1 279.1 L698.7 279.1 L701.3 279.1 L704.0 279.1 L706.6 279.1 L709.2 279.1 L711.8 279.1 L714.5 279.1 L717.1 279.1 L719.7 279.1 L722.3 279.1 L724.9 279.1 L727.6 279.1 L730.2 279.1 L732.8 279.1 L735.4 268.9 L738.1 268.9 L740.7 268.9 L743.3 268.9 L745.9 268.9 L748.5 268.9 L751.2 268.9 L753.8 268.9 L756.4 268.9 L759.0 268.9 L761.7 268.9 L764.3 268.9 L766.9 268.9 L769.5 268.9 L772.1 268.9 L774.8 268.9 L777.4 268.9 L780.0 268.9 L782.6 268.9 L785.3 268.9 L787.9 268.9 L790.5 268.9 L793.1 268.9 L795.7 268.9 L798.4 268.9 L801.0 268.9 L803.6 268.9 L806.2 268.9 L808.9 262.0 L811.5 262.0 L814.1 262.0 L816.7 262.0 L819.3 262.0 L822.0 262.0 L824.6 262.0 L827.2 262.0 L829.8 262.0 L832.5 262.0 L835.1 262.0 L837.7 262.0 L840.3 262.0 L842.9 262.0 L845.6 262.0 L848.2 262.0 L850.8 262.0 L853.4 262.0 L856.1 262.0 L858.7 262.0 L861.3 262.0 L863.9 262.0 L866.5 262.0 L869.2 262.0 L871.8 262.0 L874.4 262.0 L877.0 262.0 L879.7 262.0 L882.3 262.0 L884.9 257.6 L887.5 257.6 L890.1 257.6 L892.8 257.6 L895.4 257.6 L898.0 257.6 L900.6 257.6 L903.3 257.6 L905.9 257.6 L908.5 255.2" stroke="#5E8A2A" stroke-width="3.9" fill="none" stroke-linejoin="round" stroke-linecap="round"/>
<path d="M72.0 488.0 L74.6 479.2 L77.3 479.2 L79.9 472.1 L82.5 472.1 L85.1 472.1 L87.7 464.3 L90.4 462.9 L93.0 462.9 L95.6 456.6 L98.2 456.6 L100.9 456.6 L103.5 447.2 L106.1 447.2 L108.7 438.6 L111.3 438.6 L114.0 433.0 L116.6 431.0 L119.2 431.0 L121.8 431.0 L124.5 431.0 L127.1 431.0 L129.7 417.0 L132.3 416.1 L134.9 416.1 L137.6 416.1 L140.2 416.1 L142.8 416.1 L145.4 407.5 L148.1 407.5 L150.7 407.5 L153.3 407.5 L155.9 407.5 L158.5 404.9 L161.2 404.9 L163.8 404.9 L166.4 404.9 L169.0 399.1 L171.7 399.1 L174.3 399.1 L176.9 398.5 L179.5 398.5 L182.1 398.5 L184.8 398.5 L187.4 398.5 L190.0 398.5 L192.6 398.5 L195.3 388.8 L197.9 388.8 L200.5 388.8 L203.1 388.8 L205.7 384.0 L208.4 384.0 L211.0 384.0 L213.6 384.0 L216.2 384.0 L218.9 384.0 L221.5 376.0 L224.1 376.0 L226.7 376.0 L229.3 376.0 L232.0 376.0 L234.6 371.3 L237.2 371.0 L239.8 371.0 L242.5 371.0 L245.1 371.0 L247.7 371.0 L250.3 371.0 L252.9 371.0 L255.6 371.0 L258.2 370.5 L260.8 370.5 L263.4 370.5 L266.1 370.5 L268.7 370.5 L271.3 370.5 L273.9 360.2 L276.5 360.2 L279.2 360.2 L281.8 360.2 L284.4 360.2 L287.0 360.2 L289.7 360.2 L292.3 360.2 L294.9 360.2 L297.5 356.0 L300.1 356.0 L302.8 356.0 L305.4 356.0 L308.0 356.0 L310.6 356.0 L313.3 350.5 L315.9 350.5 L318.5 350.5 L321.1 350.5 L323.7 350.5 L326.4 350.5 L329.0 350.5 L331.6 350.5 L334.2 345.5 L336.9 344.9 L339.5 344.4 L342.1 343.9 L344.7 343.4 L347.3 342.8 L350.0 342.7 L352.6 342.8 L355.2 342.8 L357.8 342.8 L360.5 342.8 L363.1 342.8 L365.7 342.8 L368.3 342.8 L370.9 342.8 L373.6 342.8 L376.2 342.8 L378.8 342.8 L381.4 336.8 L384.1 336.8 L386.7 336.8 L389.3 336.8 L391.9 336.8 L394.5 336.8 L397.2 336.8 L399.8 336.8 L402.4 336.8 L405.0 330.2 L407.7 329.6 L410.3 328.9 L412.9 328.3 L415.5 327.6 L418.1 327.5 L420.8 327.5 L423.4 327.5 L426.0 327.5 L428.6 324.3 L431.3 323.6 L433.9 323.0 L436.5 322.6 L439.1 322.6 L441.7 322.6 L444.4 322.6 L447.0 322.6 L449.6 322.6 L452.2 322.6 L454.9 322.6 L457.5 322.6 L460.1 322.6 L462.7 315.7 L465.3 314.9 L468.0 314.1 L470.6 313.3 L473.2 312.5 L475.8 311.9 L478.5 311.4 L481.1 311.2 L483.7 311.2 L486.3 311.2 L488.9 311.2 L491.6 311.2 L494.2 309.9 L496.8 309.9 L499.4 309.9 L502.1 309.9 L504.7 309.9 L507.3 309.9 L509.9 309.9 L512.5 309.9 L515.2 309.9 L517.8 309.9 L520.4 309.9 L523.0 306.3 L525.7 306.3 L528.3 306.3 L530.9 306.3 L533.5 306.3 L536.1 306.3 L538.8 306.3 L541.4 306.3 L544.0 306.3 L546.6 306.3 L549.3 306.3 L551.9 306.3 L554.5 306.3 L557.1 306.3 L559.7 296.6 L562.4 296.0 L565.0 295.4 L567.6 294.8 L570.2 294.2 L572.9 294.2 L575.5 294.2 L578.1 294.2 L580.7 294.2 L583.3 294.2 L586.0 294.2 L588.6 294.2 L591.2 294.2 L593.8 294.2 L596.5 294.2 L599.1 294.2 L601.7 294.2 L604.3 294.2 L606.9 294.2 L609.6 294.2 L612.2 294.2 L614.8 294.2 L617.4 294.2 L620.1 294.2 L622.7 294.2 L625.3 294.2 L627.9 294.2 L630.5 280.6 L633.2 280.0 L635.8 279.4 L638.4 279.1 L641.0 279.1 L643.7 279.1 L646.3 279.1 L648.9 279.1 L651.5 279.1 L654.1 279.1 L656.8 279.1 L659.4 279.1 L662.0 279.1 L664.6 279.1 L667.3 274.2 L669.9 273.8 L672.5 273.5 L675.1 273.5 L677.7 273.5 L680.4 273.5 L683.0 273.5 L685.6 273.5 L688.2 273.5 L690.9 273.5 L693.5 273.5 L696.1 273.5 L698.7 273.5 L701.3 273.5 L704.0 273.5 L706.6 269.5 L709.2 269.5 L711.8 269.5 L714.5 269.5 L717.1 269.5 L719.7 269.5 L722.3 269.5 L724.9 269.5 L727.6 269.5 L730.2 269.5 L732.8 269.5 L735.4 264.5 L738.1 264.2 L740.7 263.9 L743.3 263.5 L745.9 263.0 L748.5 262.6 L751.2 262.2 L753.8 261.7 L756.4 261.3 L759.0 260.9 L761.7 260.5 L764.3 260.3 L766.9 260.3 L769.5 260.3 L772.1 260.3 L774.8 260.3 L777.4 260.3 L780.0 260.3 L782.6 260.3 L785.3 260.3 L787.9 260.3 L790.5 260.3 L793.1 260.3 L795.7 260.3 L798.4 260.3 L801.0 260.3 L803.6 260.3 L806.2 260.3 L808.9 260.3 L811.5 260.3 L814.1 260.3 L816.7 260.3 L819.3 260.3 L822.0 260.3 L824.6 260.3 L827.2 260.3 L829.8 260.3 L832.5 260.3 L835.1 260.3 L837.7 260.3 L840.3 260.3 L842.9 260.3 L845.6 260.3 L848.2 260.3 L850.8 251.5 L853.4 251.5 L856.1 251.5 L858.7 251.5 L861.3 251.5 L863.9 251.5 L866.5 251.5 L869.2 251.5 L871.8 251.5 L874.4 251.5 L877.0 251.5 L879.7 251.5 L882.3 251.5 L884.9 251.5 L887.5 251.5 L890.1 251.5 L892.8 251.5 L895.4 251.5 L898.0 251.5 L900.6 251.5 L903.3 251.5 L905.9 251.5 L908.5 249.6" stroke="#5B3F87" stroke-width="3.9" fill="none" stroke-linejoin="round" stroke-linecap="round"/>
<path d="M72.0 488.0 L74.6 483.6 L77.3 483.6 L79.9 474.7 L82.5 474.7 L85.1 472.2 L87.7 472.2 L90.4 472.2 L93.0 458.7 L95.6 458.7 L98.2 458.7 L100.9 455.6 L103.5 455.6 L106.1 448.8 L108.7 448.8 L111.3 438.3 L114.0 438.3 L116.6 438.3 L119.2 429.3 L121.8 429.3 L124.5 429.3 L127.1 429.3 L129.7 419.9 L132.3 419.9 L134.9 419.9 L137.6 419.9 L140.2 419.9 L142.8 419.9 L145.4 412.3 L148.1 412.3 L150.7 412.3 L153.3 412.3 L155.9 412.3 L158.5 410.7 L161.2 410.7 L163.8 410.7 L166.4 405.2 L169.0 405.2 L171.7 405.2 L174.3 405.2 L176.9 405.2 L179.5 405.2 L182.1 399.4 L184.8 399.4 L187.4 399.4 L190.0 399.4 L192.6 399.4 L195.3 393.5 L197.9 393.5 L200.5 393.5 L203.1 393.5 L205.7 393.5 L208.4 393.5 L211.0 393.5 L213.6 387.9 L216.2 387.9 L218.9 387.9 L221.5 387.9 L224.1 380.0 L226.7 380.0 L229.3 380.0 L232.0 380.0 L234.6 380.0 L237.2 380.0 L239.8 380.0 L242.5 380.0 L245.1 380.0 L247.7 380.0 L250.3 380.0 L252.9 372.6 L255.6 372.6 L258.2 372.6 L260.8 372.6 L263.4 372.6 L266.1 372.6 L268.7 372.6 L271.3 372.6 L273.9 372.6 L276.5 364.4 L279.2 364.4 L281.8 364.4 L284.4 364.4 L287.0 364.4 L289.7 364.4 L292.3 357.7 L294.9 357.7 L297.5 357.7 L300.1 357.7 L302.8 357.7 L305.4 357.7 L308.0 357.7 L310.6 359.3 L313.3 359.3 L315.9 359.3 L318.5 359.3 L321.1 359.3 L323.7 359.3 L326.4 359.3 L329.0 359.3 L331.6 359.3 L334.2 359.3 L336.9 352.3 L339.5 352.3 L342.1 352.3 L344.7 352.3 L347.3 352.3 L350.0 352.3 L352.6 344.6 L355.2 344.6 L357.8 344.6 L360.5 344.6 L363.1 344.6 L365.7 344.6 L368.3 344.6 L370.9 344.6 L373.6 344.6 L376.2 344.6 L378.8 344.6 L381.4 344.6 L384.1 344.6 L386.7 344.6 L389.3 344.6 L391.9 344.6 L394.5 344.6 L397.2 344.6 L399.8 344.6 L402.4 344.6 L405.0 344.6 L407.7 344.6 L410.3 344.6 L412.9 344.6 L415.5 344.6 L418.1 344.6 L420.8 344.6 L423.4 344.6 L426.0 344.6 L428.6 324.3 L431.3 323.7 L433.9 323.7 L436.5 323.7 L439.1 323.7 L441.7 323.7 L444.4 323.7 L447.0 323.7 L449.6 323.7 L452.2 323.7 L454.9 323.7 L457.5 323.7 L460.1 323.7 L462.7 323.7 L465.3 323.7 L468.0 323.7 L470.6 323.7 L473.2 323.7 L475.8 323.7 L478.5 323.7 L481.1 323.7 L483.7 323.7 L486.3 323.7 L488.9 323.7 L491.6 323.7 L494.2 314.2 L496.8 314.2 L499.4 314.2 L502.1 314.2 L504.7 314.2 L507.3 314.2 L509.9 314.2 L512.5 314.2 L515.2 314.2 L517.8 314.2 L520.4 314.2 L523.0 314.2 L525.7 314.2 L528.3 314.2 L530.9 314.2 L533.5 314.2 L536.1 314.2 L538.8 314.2 L541.4 314.2 L544.0 314.2 L546.6 314.2 L549.3 314.2 L551.9 314.2 L554.5 300.6 L557.1 300.6 L559.7 300.6 L562.4 300.6 L565.0 300.6 L567.6 300.6 L570.2 300.6 L572.9 300.6 L575.5 300.6 L578.1 300.6 L580.7 300.6 L583.3 300.6 L586.0 300.6 L588.6 300.6 L591.2 300.6 L593.8 300.6 L596.5 294.6 L599.1 294.6 L601.7 294.6 L604.3 294.6 L606.9 294.6 L609.6 294.6 L612.2 294.6 L614.8 294.6 L617.4 294.6 L620.1 294.6 L622.7 294.6 L625.3 294.6 L627.9 282.7 L630.5 282.7 L633.2 282.7 L635.8 282.7 L638.4 282.7 L641.0 282.7 L643.7 282.7 L646.3 282.7 L648.9 282.7 L651.5 282.7 L654.1 282.7 L656.8 282.7 L659.4 282.7 L662.0 282.7 L664.6 282.7 L667.3 282.7 L669.9 282.7 L672.5 282.7 L675.1 282.7 L677.7 282.7 L680.4 282.7 L683.0 282.7 L685.6 282.7 L688.2 282.7 L690.9 282.7 L693.5 282.7 L696.1 282.7 L698.7 282.7 L701.3 282.7 L704.0 282.7 L706.6 272.9 L709.2 272.9 L711.8 272.9 L714.5 272.9 L717.1 272.9 L719.7 272.9 L722.3 272.9 L724.9 272.9 L727.6 272.9 L730.2 272.9 L732.8 272.9 L735.4 264.5 L738.1 264.2 L740.7 263.9 L743.3 263.5 L745.9 263.0 L748.5 262.6 L751.2 262.2 L753.8 262.2 L756.4 262.2 L759.0 262.2 L761.7 262.2 L764.3 262.2 L766.9 262.2 L769.5 262.2 L772.1 262.2 L774.8 262.2 L777.4 262.2 L780.0 262.2 L782.6 262.2 L785.3 262.2 L787.9 262.2 L790.5 262.2 L793.1 262.2 L795.7 262.2 L798.4 262.2 L801.0 262.2 L803.6 262.2 L806.2 262.2 L808.9 262.2 L811.5 262.2 L814.1 262.2 L816.7 262.2 L819.3 262.2 L822.0 262.2 L824.6 262.2 L827.2 262.2 L829.8 262.2 L832.5 262.2 L835.1 262.2 L837.7 262.2 L840.3 262.2 L842.9 262.2 L845.6 262.2 L848.2 262.2 L850.8 262.2 L853.4 262.2 L856.1 262.2 L858.7 262.2 L861.3 262.2 L863.9 262.2 L866.5 262.2 L869.2 262.2 L871.8 262.2 L874.4 262.2 L877.0 262.2 L879.7 262.2 L882.3 262.2 L884.9 252.9 L887.5 252.9 L890.1 252.9 L892.8 252.9 L895.4 252.9 L898.0 252.9 L900.6 252.9 L903.3 252.9 L905.9 252.9 L908.5 250.3" stroke="#137788" stroke-width="3.9" fill="none" stroke-linejoin="round" stroke-linecap="round"/>
<path d="M72.0 497.5 L74.6 497.5 L77.3 483.3 L79.9 483.3 L82.5 480.8 L85.1 480.8 L87.7 473.9 L90.4 473.9 L93.0 473.9 L95.6 467.7 L98.2 467.7 L100.9 463.8 L103.5 463.8 L106.1 463.8 L108.7 452.3 L111.3 452.3 L114.0 442.8 L116.6 442.8 L119.2 442.8 L121.8 442.8 L124.5 442.8 L127.1 442.8 L129.7 442.8 L132.3 426.2 L134.9 426.2 L137.6 426.2 L140.2 418.8 L142.8 418.8 L145.4 418.8 L148.1 418.8 L150.7 418.8 L153.3 418.8 L155.9 412.5 L158.5 412.5 L161.2 412.5 L163.8 412.5 L166.4 412.5 L169.0 412.5 L171.7 412.5 L174.3 408.0 L176.9 408.0 L179.5 408.0 L182.1 408.0 L184.8 408.0 L187.4 408.0 L190.0 408.0 L192.6 401.0 L195.3 401.0 L197.9 401.0 L200.5 401.0 L203.1 401.0 L205.7 401.0 L208.4 392.5 L211.0 392.5 L213.6 392.5 L216.2 392.5 L218.9 392.5 L221.5 392.5 L224.1 392.5 L226.7 387.8 L229.3 387.8 L232.0 387.8 L234.6 387.8 L237.2 387.8 L239.8 387.8 L242.5 387.8 L245.1 381.8 L247.7 381.8 L250.3 381.8 L252.9 381.8 L255.6 381.8 L258.2 381.8 L260.8 381.8 L263.4 377.9 L266.1 377.9 L268.7 377.9 L271.3 377.9 L273.9 377.9 L276.5 370.2 L279.2 370.2 L281.8 370.2 L284.4 370.2 L287.0 370.2 L289.7 370.2 L292.3 370.2 L294.9 370.2 L297.5 370.2 L300.1 365.6 L302.8 365.6 L305.4 365.6 L308.0 365.6 L310.6 365.6 L313.3 365.6 L315.9 365.6 L318.5 365.6 L321.1 365.6 L323.7 365.6 L326.4 357.9 L329.0 357.9 L331.6 357.9 L334.2 357.9 L336.9 357.9 L339.5 356.8 L342.1 356.8 L344.7 356.8 L347.3 356.8 L350.0 356.8 L352.6 341.8 L355.2 341.3 L357.8 340.7 L360.5 340.2 L363.1 339.7 L365.7 339.4 L368.3 339.4 L370.9 339.4 L373.6 339.4 L376.2 339.4 L378.8 339.4 L381.4 339.4 L384.1 339.4 L386.7 339.4 L389.3 339.4 L391.9 339.4 L394.5 339.4 L397.2 339.4 L399.8 339.4 L402.4 339.4 L405.0 339.4 L407.7 339.4 L410.3 339.4 L412.9 339.4 L415.5 339.4 L418.1 339.4 L420.8 339.4 L423.4 339.4 L426.0 339.4 L428.6 339.4 L431.3 339.4 L433.9 339.4 L436.5 339.4 L439.1 339.4 L441.7 339.4 L444.4 339.4 L447.0 339.4 L449.6 339.4 L452.2 339.4 L454.9 339.4 L457.5 339.4 L460.1 339.4 L462.7 339.4 L465.3 339.4 L468.0 339.4 L470.6 339.4 L473.2 339.4 L475.8 339.4 L478.5 339.4 L481.1 339.4 L483.7 339.4 L486.3 339.4 L488.9 339.4 L491.6 320.1 L494.2 320.1 L496.8 320.1 L499.4 320.1 L502.1 320.1 L504.7 320.1 L507.3 320.1 L509.9 320.1 L512.5 320.1 L515.2 320.1 L517.8 320.1 L520.4 320.1 L523.0 313.1 L525.7 313.1 L528.3 313.1 L530.9 313.1 L533.5 313.1 L536.1 313.1 L538.8 313.1 L541.4 313.1 L544.0 313.1 L546.6 313.1 L549.3 313.1 L551.9 313.1 L554.5 313.1 L557.1 304.5 L559.7 304.5 L562.4 304.5 L565.0 304.5 L567.6 304.5 L570.2 304.5 L572.9 304.5 L575.5 304.5 L578.1 304.5 L580.7 304.5 L583.3 304.5 L586.0 304.5 L588.6 304.5 L591.2 304.5 L593.8 304.5 L596.5 297.7 L599.1 297.7 L601.7 297.7 L604.3 297.7 L606.9 297.7 L609.6 297.7 L612.2 297.7 L614.8 297.7 L617.4 297.7 L620.1 297.7 L622.7 297.7 L625.3 297.7 L627.9 292.8 L630.5 292.8 L633.2 292.8 L635.8 292.8 L638.4 292.8 L641.0 292.8 L643.7 292.8 L646.3 292.8 L648.9 292.8 L651.5 292.8 L654.1 292.8 L656.8 292.8 L659.4 292.8 L662.0 292.8 L664.6 292.8 L667.3 292.8 L669.9 292.8 L672.5 288.0 L675.1 288.0 L677.7 288.0 L680.4 288.0 L683.0 288.0 L685.6 288.0 L688.2 288.0 L690.9 288.0 L693.5 288.0 L696.1 288.0 L698.7 288.0 L701.3 277.1 L704.0 277.1 L706.6 277.1 L709.2 277.1 L711.8 277.1 L714.5 277.1 L717.1 277.1 L719.7 277.1 L722.3 277.1 L724.9 277.1 L727.6 277.1 L730.2 277.1 L732.8 277.1 L735.4 277.1 L738.1 277.1 L740.7 277.1 L743.3 277.1 L745.9 277.1 L748.5 277.1 L751.2 277.1 L753.8 277.1 L756.4 277.1 L759.0 277.1 L761.7 277.1 L764.3 277.1 L766.9 277.1 L769.5 277.1 L772.1 277.1 L774.8 277.1 L777.4 269.7 L780.0 269.7 L782.6 269.7 L785.3 269.7 L787.9 269.7 L790.5 269.7 L793.1 269.7 L795.7 269.7 L798.4 269.7 L801.0 269.7 L803.6 269.7 L806.2 269.7 L808.9 269.7 L811.5 269.7 L814.1 269.7 L816.7 269.7 L819.3 269.7 L822.0 269.7 L824.6 269.7 L827.2 269.7 L829.8 269.7 L832.5 269.7 L835.1 269.7 L837.7 269.7 L840.3 269.7 L842.9 269.7 L845.6 269.7 L848.2 269.7 L850.8 262.8 L853.4 262.8 L856.1 262.8 L858.7 262.8 L861.3 262.8 L863.9 262.8 L866.5 262.8 L869.2 262.8 L871.8 262.8 L874.4 262.8 L877.0 262.8 L879.7 262.8 L882.3 262.8 L884.9 262.8 L887.5 262.8 L890.1 262.8 L892.8 262.8 L895.4 262.8 L898.0 262.8 L900.6 262.8 L903.3 262.8 L905.9 262.8 L908.5 257.2" stroke="#C4621C" stroke-width="3.9" fill="none" stroke-linejoin="round" stroke-linecap="round"/>
<path d="M72.0 496.1 L74.6 496.1 L77.3 496.1 L79.9 489.6 L82.5 489.6 L85.1 484.2 L87.7 484.2 L90.4 484.2 L93.0 477.4 L95.6 477.4 L98.2 477.4 L100.9 469.6 L103.5 469.6 L106.1 467.4 L108.7 467.4 L111.3 447.0 L114.0 447.0 L116.6 447.0 L119.2 447.0 L121.8 447.0 L124.5 447.0 L127.1 447.0 L129.7 437.8 L132.3 437.8 L134.9 437.8 L137.6 437.8 L140.2 430.7 L142.8 430.7 L145.4 430.7 L148.1 430.7 L150.7 430.7 L153.3 430.7 L155.9 425.0 L158.5 425.0 L161.2 425.0 L163.8 425.0 L166.4 425.0 L169.0 425.0 L171.7 425.0 L174.3 416.4 L176.9 416.4 L179.5 416.4 L182.1 416.4 L184.8 416.4 L187.4 416.4 L190.0 416.4 L192.6 413.0 L195.3 413.0 L197.9 413.0 L200.5 413.0 L203.1 413.0 L205.7 413.0 L208.4 403.4 L211.0 403.4 L213.6 403.4 L216.2 403.4 L218.9 403.4 L221.5 403.4 L224.1 395.8 L226.7 395.8 L229.3 395.8 L232.0 395.8 L234.6 395.8 L237.2 395.8 L239.8 395.8 L242.5 395.8 L245.1 395.8 L247.7 395.8 L250.3 395.8 L252.9 388.7 L255.6 388.7 L258.2 388.7 L260.8 388.7 L263.4 388.7 L266.1 388.7 L268.7 388.7 L271.3 388.7 L273.9 388.7 L276.5 388.7 L279.2 388.7 L281.8 382.6 L284.4 382.6 L287.0 382.6 L289.7 382.6 L292.3 382.6 L294.9 376.7 L297.5 376.7 L300.1 376.7 L302.8 376.7 L305.4 376.7 L308.0 376.7 L310.6 376.7 L313.3 376.7 L315.9 373.8 L318.5 373.8 L321.1 373.8 L323.7 373.8 L326.4 373.8 L329.0 373.8 L331.6 373.8 L334.2 364.2 L336.9 364.2 L339.5 364.2 L342.1 364.2 L344.7 364.2 L347.3 364.2 L350.0 364.2 L352.6 364.2 L355.2 364.2 L357.8 364.2 L360.5 364.2 L363.1 364.2 L365.7 364.2 L368.3 364.2 L370.9 364.2 L373.6 364.2 L376.2 364.2 L378.8 364.2 L381.4 364.2 L384.1 357.1 L386.7 357.1 L389.3 357.1 L391.9 357.1 L394.5 357.1 L397.2 357.1 L399.8 357.1 L402.4 357.1 L405.0 353.6 L407.7 353.6 L410.3 353.6 L412.9 353.6 L415.5 353.6 L418.1 353.6 L420.8 353.6 L423.4 353.6 L426.0 353.6 L428.6 340.4 L431.3 340.4 L433.9 340.4 L436.5 340.4 L439.1 340.4 L441.7 340.4 L444.4 340.4 L447.0 340.4 L449.6 340.4 L452.2 340.4 L454.9 340.4 L457.5 340.4 L460.1 340.4 L462.7 340.4 L465.3 340.4 L468.0 340.4 L470.6 340.4 L473.2 340.4 L475.8 340.4 L478.5 340.4 L481.1 340.4 L483.7 340.4 L486.3 340.4 L488.9 340.4 L491.6 340.4 L494.2 331.8 L496.8 331.8 L499.4 331.8 L502.1 331.8 L504.7 331.8 L507.3 331.8 L509.9 331.8 L512.5 331.8 L515.2 331.8 L517.8 331.8 L520.4 331.8 L523.0 331.8 L525.7 331.8 L528.3 322.5 L530.9 322.5 L533.5 322.5 L536.1 322.5 L538.8 322.5 L541.4 322.5 L544.0 322.5 L546.6 322.5 L549.3 322.5 L551.9 322.5 L554.5 317.6 L557.1 317.6 L559.7 317.6 L562.4 317.6 L565.0 317.6 L567.6 317.6 L570.2 317.6 L572.9 317.6 L575.5 317.6 L578.1 317.6 L580.7 317.6 L583.3 317.6 L586.0 317.6 L588.6 317.6 L591.2 317.6 L593.8 317.6 L596.5 317.6 L599.1 303.2 L601.7 303.2 L604.3 303.2 L606.9 303.2 L609.6 303.2 L612.2 303.2 L614.8 303.2 L617.4 303.2 L620.1 303.2 L622.7 303.2 L625.3 303.2 L627.9 303.2 L630.5 303.2 L633.2 303.2 L635.8 303.2 L638.4 303.2 L641.0 303.2 L643.7 303.2 L646.3 303.2 L648.9 303.2 L651.5 303.2 L654.1 303.2 L656.8 303.2 L659.4 303.2 L662.0 303.2 L664.6 303.2 L667.3 296.1 L669.9 296.1 L672.5 296.1 L675.1 296.1 L677.7 296.1 L680.4 296.1 L683.0 296.1 L685.6 296.1 L688.2 296.1 L690.9 296.1 L693.5 296.1 L696.1 296.1 L698.7 296.1 L701.3 296.1 L704.0 288.0 L706.6 288.0 L709.2 288.0 L711.8 288.0 L714.5 288.0 L717.1 288.0 L719.7 288.0 L722.3 288.0 L724.9 288.0 L727.6 288.0 L730.2 288.0 L732.8 288.0 L735.4 287.3 L738.1 287.3 L740.7 287.3 L743.3 287.3 L745.9 287.3 L748.5 287.3 L751.2 287.3 L753.8 287.3 L756.4 287.3 L759.0 287.3 L761.7 287.3 L764.3 287.3 L766.9 287.3 L769.5 287.3 L772.1 287.3 L774.8 278.4 L777.4 278.4 L780.0 278.4 L782.6 278.4 L785.3 278.4 L787.9 278.4 L790.5 278.4 L793.1 278.4 L795.7 278.4 L798.4 278.4 L801.0 278.4 L803.6 278.4 L806.2 278.4 L808.9 278.4 L811.5 278.4 L814.1 278.4 L816.7 278.4 L819.3 278.4 L822.0 278.4 L824.6 278.4 L827.2 278.4 L829.8 278.4 L832.5 278.4 L835.1 278.4 L837.7 278.4 L840.3 278.4 L842.9 278.4 L845.6 278.4 L848.2 278.4 L850.8 278.4 L853.4 278.4 L856.1 278.4 L858.7 278.4 L861.3 278.4 L863.9 278.4 L866.5 278.4 L869.2 278.4 L871.8 278.4 L874.4 278.4 L877.0 278.4 L879.7 278.4 L882.3 278.4 L884.9 269.7 L887.5 269.7 L890.1 269.7 L892.8 269.7 L895.4 269.7 L898.0 269.7 L900.6 269.7 L903.3 269.7 L905.9 269.7 L908.5 264.7" stroke="#2A6EBB" stroke-width="3.9" fill="none" stroke-linejoin="round" stroke-linecap="round"/>
<path d="M72.0 505.9 L74.6 505.9 L77.3 497.9 L79.9 497.9 L82.5 493.2 L85.1 493.2 L87.7 493.2 L90.4 484.3 L93.0 484.3 L95.6 484.3 L98.2 478.5 L100.9 478.5 L103.5 474.0 L106.1 474.0 L108.7 464.3 L111.3 464.3 L114.0 464.3 L116.6 455.0 L119.2 455.0 L121.8 455.0 L124.5 455.0 L127.1 441.6 L129.7 441.6 L132.3 441.6 L134.9 441.6 L137.6 441.6 L140.2 441.6 L142.8 432.3 L145.4 432.3 L148.1 432.3 L150.7 432.3 L153.3 432.3 L155.9 432.3 L158.5 432.3 L161.2 425.5 L163.8 425.5 L166.4 425.5 L169.0 425.5 L171.7 425.5 L174.3 425.5 L176.9 425.5 L179.5 425.5 L182.1 416.0 L184.8 416.0 L187.4 416.0 L190.0 416.0 L192.6 416.0 L195.3 416.0 L197.9 409.0 L200.5 409.0 L203.1 409.0 L205.7 409.0 L208.4 409.0 L211.0 409.0 L213.6 409.0 L216.2 403.3 L218.9 403.3 L221.5 403.3 L224.1 403.3 L226.7 403.3 L229.3 400.7 L232.0 400.7 L234.6 400.7 L237.2 400.7 L239.8 400.7 L242.5 400.7 L245.1 400.7 L247.7 398.3 L250.3 398.3 L252.9 398.3 L255.6 398.3 L258.2 398.3 L260.8 398.3 L263.4 398.3 L266.1 398.3 L268.7 386.5 L271.3 386.5 L273.9 386.5 L276.5 386.5 L279.2 386.5 L281.8 386.5 L284.4 386.5 L287.0 386.5 L289.7 386.5 L292.3 386.5 L294.9 386.5 L297.5 380.5 L300.1 380.5 L302.8 380.5 L305.4 380.5 L308.0 380.5 L310.6 380.5 L313.3 380.5 L315.9 373.2 L318.5 373.2 L321.1 373.2 L323.7 373.2 L326.4 373.2 L329.0 373.2 L331.6 373.2 L334.2 374.5 L336.9 374.5 L339.5 374.5 L342.1 374.5 L344.7 374.5 L347.3 374.5 L350.0 366.9 L352.6 366.9 L355.2 366.9 L357.8 366.9 L360.5 366.9 L363.1 366.9 L365.7 366.9 L368.3 366.9 L370.9 366.9 L373.6 366.9 L376.2 366.9 L378.8 360.2 L381.4 360.2 L384.1 360.2 L386.7 360.2 L389.3 360.2 L391.9 360.2 L394.5 360.2 L397.2 360.2 L399.8 360.2 L402.4 360.2 L405.0 360.2 L407.7 360.2 L410.3 360.2 L412.9 360.2 L415.5 360.2 L418.1 360.2 L420.8 360.2 L423.4 360.2 L426.0 348.2 L428.6 348.2 L431.3 348.2 L433.9 348.2 L436.5 348.2 L439.1 348.2 L441.7 348.2 L444.4 348.2 L447.0 348.2 L449.6 348.2 L452.2 348.2 L454.9 348.2 L457.5 346.6 L460.1 346.6 L462.7 346.6 L465.3 346.6 L468.0 346.6 L470.6 346.6 L473.2 346.6 L475.8 346.6 L478.5 346.6 L481.1 346.6 L483.7 346.6 L486.3 346.6 L488.9 346.6 L491.6 335.1 L494.2 335.1 L496.8 335.1 L499.4 335.1 L502.1 335.1 L504.7 335.1 L507.3 335.1 L509.9 335.1 L512.5 335.1 L515.2 335.1 L517.8 335.1 L520.4 335.1 L523.0 335.1 L525.7 329.2 L528.3 329.2 L530.9 329.2 L533.5 329.2 L536.1 329.2 L538.8 329.2 L541.4 329.2 L544.0 329.2 L546.6 329.2 L549.3 329.2 L551.9 329.2 L554.5 329.2 L557.1 319.8 L559.7 319.8 L562.4 319.8 L565.0 319.8 L567.6 319.8 L570.2 319.8 L572.9 319.8 L575.5 319.8 L578.1 319.8 L580.7 319.8 L583.3 319.8 L586.0 319.8 L588.6 319.8 L591.2 319.8 L593.8 319.8 L596.5 308.3 L599.1 308.3 L601.7 308.3 L604.3 308.3 L606.9 308.3 L609.6 308.3 L612.2 308.3 L614.8 308.3 L617.4 308.3 L620.1 308.3 L622.7 308.3 L625.3 308.3 L627.9 308.3 L630.5 308.3 L633.2 308.3 L635.8 308.3 L638.4 308.3 L641.0 308.3 L643.7 308.3 L646.3 308.3 L648.9 308.3 L651.5 308.3 L654.1 308.3 L656.8 308.3 L659.4 308.3 L662.0 308.3 L664.6 308.3 L667.3 308.3 L669.9 308.3 L672.5 298.9 L675.1 298.9 L677.7 298.9 L680.4 298.9 L683.0 298.9 L685.6 298.9 L688.2 298.9 L690.9 298.9 L693.5 298.9 L696.1 298.9 L698.7 298.9 L701.3 298.9 L704.0 298.9 L706.6 298.9 L709.2 298.9 L711.8 298.9 L714.5 298.9 L717.1 298.9 L719.7 298.9 L722.3 298.9 L724.9 298.9 L727.6 298.9 L730.2 298.9 L732.8 298.9 L735.4 286.5 L738.1 286.5 L740.7 286.5 L743.3 286.5 L745.9 286.5 L748.5 286.5 L751.2 286.5 L753.8 286.5 L756.4 286.5 L759.0 286.5 L761.7 286.5 L764.3 286.5 L766.9 286.5 L769.5 286.5 L772.1 286.5 L774.8 286.5 L777.4 286.5 L780.0 286.5 L782.6 286.5 L785.3 286.5 L787.9 286.5 L790.5 286.5 L793.1 286.5 L795.7 286.5 L798.4 286.5 L801.0 286.5 L803.6 286.5 L806.2 286.5 L808.9 280.6 L811.5 280.6 L814.1 280.6 L816.7 280.6 L819.3 280.6 L822.0 280.6 L824.6 280.6 L827.2 280.6 L829.8 280.6 L832.5 280.6 L835.1 280.6 L837.7 280.6 L840.3 280.6 L842.9 280.6 L845.6 280.6 L848.2 277.9 L850.8 277.9 L853.4 277.9 L856.1 277.9 L858.7 277.9 L861.3 277.9 L863.9 277.9 L866.5 277.9 L869.2 277.9 L871.8 277.9 L874.4 277.9 L877.0 277.9 L879.7 277.9 L882.3 277.9 L884.9 274.1 L887.5 274.1 L890.1 274.1 L892.8 274.1 L895.4 274.1 L898.0 274.1 L900.6 274.1 L903.3 274.1 L905.9 274.1 L908.5 271.9" stroke="#C83A3A" stroke-width="3.9" fill="none" stroke-linejoin="round" stroke-linecap="round"/>
<path d="M72.0 500.7 L74.6 500.7 L77.3 500.7 L79.9 496.9 L82.5 496.9 L85.1 496.9 L87.7 487.4 L90.4 487.4 L93.0 487.4 L95.6 481.9 L98.2 481.9 L100.9 474.4 L103.5 474.4 L106.1 466.5 L108.7 466.5 L111.3 466.5 L114.0 456.4 L116.6 456.4 L119.2 456.4 L121.8 444.6 L124.5 444.6 L127.1 444.6 L129.7 444.6 L132.3 444.6 L134.9 444.6 L137.6 444.6 L140.2 436.4 L142.8 436.4 L145.4 436.4 L148.1 436.4 L150.7 432.9 L153.3 432.9 L155.9 432.9 L158.5 427.0 L161.2 427.0 L163.8 427.0 L166.4 427.0 L169.0 427.0 L171.7 427.0 L174.3 420.7 L176.9 420.7 L179.5 420.7 L182.1 420.7 L184.8 420.7 L187.4 420.7 L190.0 420.7 L192.6 414.9 L195.3 414.9 L197.9 414.9 L200.5 414.9 L203.1 414.9 L205.7 414.9 L208.4 409.6 L211.0 409.6 L213.6 409.6 L216.2 408.0 L218.9 408.0 L221.5 408.0 L224.1 408.0 L226.7 399.5 L229.3 399.5 L232.0 399.5 L234.6 399.5 L237.2 399.5 L239.8 399.5 L242.5 399.5 L245.1 399.5 L247.7 399.5 L250.3 393.2 L252.9 393.2 L255.6 393.2 L258.2 393.2 L260.8 393.2 L263.4 393.2 L266.1 388.7 L268.7 388.7 L271.3 388.7 L273.9 388.7 L276.5 388.7 L279.2 388.7 L281.8 386.5 L284.4 386.5 L287.0 386.5 L289.7 386.5 L292.3 386.5 L294.9 386.5 L297.5 386.5 L300.1 386.5 L302.8 377.7 L305.4 377.7 L308.0 377.7 L310.6 377.7 L313.3 377.7 L315.9 377.7 L318.5 373.9 L321.1 373.9 L323.7 373.9 L326.4 373.9 L329.0 373.9 L331.6 373.9 L334.2 373.9 L336.9 373.9 L339.5 365.3 L342.1 365.3 L344.7 365.3 L347.3 365.3 L350.0 365.3 L352.6 365.3 L355.2 365.3 L357.8 365.3 L360.5 365.3 L363.1 365.3 L365.7 365.3 L368.3 365.3 L370.9 365.3 L373.6 365.3 L376.2 365.3 L378.8 357.6 L381.4 357.6 L384.1 357.6 L386.7 357.6 L389.3 357.6 L391.9 357.6 L394.5 357.6 L397.2 357.6 L399.8 357.6 L402.4 357.6 L405.0 357.6 L407.7 357.6 L410.3 357.6 L412.9 357.6 L415.5 357.6 L418.1 357.6 L420.8 357.6 L423.4 357.6 L426.0 357.6 L428.6 357.6 L431.3 352.1 L433.9 352.1 L436.5 352.1 L439.1 352.1 L441.7 352.1 L444.4 352.1 L447.0 352.1 L449.6 352.1 L452.2 352.1 L454.9 352.1 L457.5 341.4 L460.1 341.4 L462.7 341.4 L465.3 341.4 L468.0 341.4 L470.6 341.4 L473.2 341.4 L475.8 341.4 L478.5 341.4 L481.1 341.4 L483.7 341.4 L486.3 341.4 L488.9 341.4 L491.6 341.4 L494.2 341.4 L496.8 341.4 L499.4 341.4 L502.1 341.4 L504.7 341.4 L507.3 341.4 L509.9 341.4 L512.5 341.4 L515.2 341.4 L517.8 341.4 L520.4 341.4 L523.0 341.4 L525.7 332.9 L528.3 332.9 L530.9 332.9 L533.5 332.9 L536.1 332.9 L538.8 332.9 L541.4 332.9 L544.0 332.9 L546.6 332.9 L549.3 332.9 L551.9 332.9 L554.5 332.9 L557.1 332.9 L559.7 317.3 L562.4 317.3 L565.0 317.3 L567.6 317.3 L570.2 317.3 L572.9 317.3 L575.5 317.3 L578.1 317.3 L580.7 317.3 L583.3 317.3 L586.0 317.3 L588.6 317.3 L591.2 317.3 L593.8 317.3 L596.5 317.3 L599.1 317.3 L601.7 317.3 L604.3 317.3 L606.9 317.3 L609.6 317.3 L612.2 317.3 L614.8 317.3 L617.4 317.3 L620.1 317.3 L622.7 317.3 L625.3 317.3 L627.9 317.3 L630.5 317.3 L633.2 317.3 L635.8 317.3 L638.4 317.3 L641.0 317.3 L643.7 317.3 L646.3 317.3 L648.9 317.3 L651.5 317.3 L654.1 317.3 L656.8 317.3 L659.4 317.3 L662.0 317.3 L664.6 317.3 L667.3 317.3 L669.9 317.3 L672.5 305.2 L675.1 305.2 L677.7 305.2 L680.4 305.2 L683.0 305.2 L685.6 305.2 L688.2 305.2 L690.9 305.2 L693.5 305.2 L696.1 305.2 L698.7 305.2 L701.3 305.2 L704.0 295.8 L706.6 295.8 L709.2 295.8 L711.8 295.8 L714.5 295.8 L717.1 295.8 L719.7 295.8 L722.3 295.8 L724.9 295.8 L727.6 295.8 L730.2 295.8 L732.8 295.8 L735.4 295.8 L738.1 290.8 L740.7 290.8 L743.3 290.8 L745.9 290.8 L748.5 290.8 L751.2 290.8 L753.8 290.8 L756.4 290.8 L759.0 290.8 L761.7 290.8 L764.3 290.8 L766.9 290.8 L769.5 290.8 L772.1 284.4 L774.8 284.4 L777.4 284.4 L780.0 284.4 L782.6 284.4 L785.3 284.4 L787.9 284.4 L790.5 284.4 L793.1 284.4 L795.7 284.4 L798.4 284.4 L801.0 284.4 L803.6 284.4 L806.2 284.4 L808.9 284.4 L811.5 284.4 L814.1 280.0 L816.7 280.0 L819.3 280.0 L822.0 280.0 L824.6 280.0 L827.2 280.0 L829.8 280.0 L832.5 280.0 L835.1 280.0 L837.7 280.0 L840.3 280.0 L842.9 280.0 L845.6 279.0 L848.2 279.0 L850.8 279.0 L853.4 279.0 L856.1 279.0 L858.7 279.0 L861.3 279.0 L863.9 279.0 L866.5 279.0 L869.2 279.0 L871.8 279.0 L874.4 279.0 L877.0 279.0 L879.7 279.0 L882.3 279.0 L884.9 279.0 L887.5 279.0 L890.1 279.0 L892.8 279.0 L895.4 279.0 L898.0 279.0 L900.6 279.0 L903.3 279.0 L905.9 279.0 L908.5 274.9" stroke="#72A83A" stroke-width="3.9" fill="none" stroke-linejoin="round" stroke-linecap="round"/>
<path d="M72.0 514.0 L74.6 513.4 L77.3 509.6 L79.9 509.6 L82.5 509.6 L85.1 504.9 L87.7 504.9 L90.4 501.8 L93.0 494.1 L95.6 494.1 L98.2 494.0 L100.9 482.1 L103.5 482.1 L106.1 482.1 L108.7 476.1 L111.3 476.1 L114.0 476.1 L116.6 462.3 L119.2 462.3 L121.8 462.3 L124.5 462.3 L127.1 462.3 L129.7 461.7 L132.3 459.7 L134.9 450.2 L137.6 450.2 L140.2 450.2 L142.8 450.2 L145.4 443.8 L148.1 443.8 L150.7 443.8 L153.3 442.1 L155.9 442.1 L158.5 442.1 L161.2 442.1 L163.8 442.1 L166.4 434.3 L169.0 434.3 L171.7 434.3 L174.3 434.3 L176.9 434.3 L179.5 434.3 L182.1 434.3 L184.8 428.7 L187.4 428.7 L190.0 428.7 L192.6 428.7 L195.3 428.7 L197.9 428.7 L200.5 428.7 L203.1 422.7 L205.7 422.7 L208.4 422.7 L211.0 422.7 L213.6 422.7 L216.2 422.1 L218.9 417.0 L221.5 417.0 L224.1 417.0 L226.7 417.0 L229.3 417.0 L232.0 414.7 L234.6 414.7 L237.2 414.7 L239.8 414.7 L242.5 414.7 L245.1 414.7 L247.7 414.7 L250.3 414.2 L252.9 413.4 L255.6 412.7 L258.2 411.9 L260.8 406.1 L263.4 406.1 L266.1 406.1 L268.7 406.1 L271.3 406.1 L273.9 406.1 L276.5 406.1 L279.2 405.9 L281.8 398.5 L284.4 398.5 L287.0 398.5 L289.7 398.5 L292.3 398.5 L294.9 398.5 L297.5 398.5 L300.1 398.5 L302.8 398.5 L305.4 398.5 L308.0 387.9 L310.6 387.9 L313.3 387.9 L315.9 387.9 L318.5 387.9 L321.1 387.9 L323.7 387.9 L326.4 387.9 L329.0 387.9 L331.6 387.9 L334.2 387.9 L336.9 383.7 L339.5 383.7 L342.1 383.7 L344.7 383.7 L347.3 383.7 L350.0 376.5 L352.6 376.5 L355.2 376.5 L357.8 376.5 L360.5 376.5 L363.1 376.5 L365.7 376.5 L368.3 376.5 L370.9 376.5 L373.6 376.5 L376.2 376.5 L378.8 376.5 L381.4 376.5 L384.1 376.5 L386.7 376.5 L389.3 376.5 L391.9 376.5 L394.5 376.5 L397.2 376.0 L399.8 375.3 L402.4 374.7 L405.0 374.2 L407.7 373.7 L410.3 373.1 L412.9 372.6 L415.5 372.1 L418.1 371.6 L420.8 371.0 L423.4 370.5 L426.0 361.3 L428.6 361.3 L431.3 361.3 L433.9 361.3 L436.5 361.3 L439.1 361.3 L441.7 361.3 L444.4 361.3 L447.0 361.3 L449.6 361.3 L452.2 361.3 L454.9 361.3 L457.5 361.3 L460.1 361.3 L462.7 353.1 L465.3 353.1 L468.0 353.1 L470.6 353.1 L473.2 353.1 L475.8 353.1 L478.5 353.1 L481.1 353.1 L483.7 353.1 L486.3 353.1 L488.9 346.2 L491.6 346.2 L494.2 346.2 L496.8 346.2 L499.4 346.2 L502.1 346.2 L504.7 346.2 L507.3 346.2 L509.9 346.2 L512.5 346.2 L515.2 346.2 L517.8 346.2 L520.4 346.2 L523.0 346.2 L525.7 346.2 L528.3 336.3 L530.9 336.3 L533.5 336.3 L536.1 336.3 L538.8 336.3 L541.4 336.3 L544.0 336.3 L546.6 336.3 L549.3 336.3 L551.9 336.3 L554.5 336.3 L557.1 333.5 L559.7 333.5 L562.4 333.5 L565.0 333.5 L567.6 333.5 L570.2 333.5 L572.9 333.5 L575.5 333.5 L578.1 333.5 L580.7 333.5 L583.3 333.5 L586.0 333.5 L588.6 333.5 L591.2 333.5 L593.8 333.5 L596.5 326.5 L599.1 326.5 L601.7 326.5 L604.3 326.5 L606.9 326.5 L609.6 326.5 L612.2 326.5 L614.8 326.5 L617.4 326.5 L620.1 326.5 L622.7 326.5 L625.3 326.5 L627.9 326.5 L630.5 315.7 L633.2 315.7 L635.8 315.7 L638.4 315.7 L641.0 315.7 L643.7 315.7 L646.3 315.7 L648.9 315.7 L651.5 315.7 L654.1 315.7 L656.8 315.7 L659.4 315.7 L662.0 315.7 L664.6 315.7 L667.3 315.7 L669.9 311.8 L672.5 311.8 L675.1 311.8 L677.7 311.8 L680.4 311.8 L683.0 311.8 L685.6 311.8 L688.2 311.8 L690.9 311.8 L693.5 311.8 L696.1 311.8 L698.7 311.8 L701.3 311.8 L704.0 308.6 L706.6 308.6 L709.2 308.6 L711.8 308.6 L714.5 308.6 L717.1 308.6 L719.7 308.6 L722.3 308.6 L724.9 308.6 L727.6 308.6 L730.2 308.6 L732.8 308.6 L735.4 308.6 L738.1 300.6 L740.7 300.6 L743.3 300.6 L745.9 300.6 L748.5 300.6 L751.2 300.6 L753.8 300.6 L756.4 300.6 L759.0 300.6 L761.7 300.6 L764.3 300.6 L766.9 300.6 L769.5 300.6 L772.1 299.4 L774.8 299.4 L777.4 299.4 L780.0 299.4 L782.6 299.4 L785.3 299.4 L787.9 299.4 L790.5 299.4 L793.1 299.4 L795.7 299.4 L798.4 299.4 L801.0 299.4 L803.6 299.4 L806.2 299.4 L808.9 299.4 L811.5 294.8 L814.1 294.8 L816.7 294.8 L819.3 294.8 L822.0 294.8 L824.6 294.8 L827.2 294.8 L829.8 294.8 L832.5 294.8 L835.1 294.8 L837.7 294.8 L840.3 294.8 L842.9 294.8 L845.6 294.8 L848.2 290.2 L850.8 290.2 L853.4 290.2 L856.1 290.2 L858.7 290.2 L861.3 290.2 L863.9 290.2 L866.5 290.2 L869.2 290.2 L871.8 290.2 L874.4 290.2 L877.0 290.2 L879.7 290.2 L882.3 285.4 L884.9 285.4 L887.5 285.4 L890.1 285.4 L892.8 285.4 L895.4 285.4 L898.0 285.4 L900.6 285.4 L903.3 285.4 L905.9 285.4 L908.5 280.2" stroke="#7653A0" stroke-width="3.9" fill="none" stroke-linejoin="round" stroke-linecap="round"/>
<path d="M72.0 488.0 L74.6 479.9 L77.3 479.9 L79.9 477.2 L82.5 477.2 L85.1 469.9 L87.7 469.9 L90.4 462.0 L93.0 462.0 L95.6 462.0 L98.2 457.1 L100.9 457.1 L103.5 447.9 L106.1 447.9 L108.7 445.9 L111.3 445.9 L114.0 434.2 L116.6 434.2 L119.2 434.2 L121.8 434.2 L124.5 434.2 L127.1 434.2 L129.7 419.2 L132.3 419.2 L134.9 419.2 L137.6 419.2 L140.2 419.2 L142.8 412.9 L145.4 412.9 L148.1 412.9 L150.7 412.9 L153.3 412.9 L155.9 405.5 L158.5 405.5 L161.2 405.5 L163.8 405.5 L166.4 405.5 L169.0 405.5 L171.7 404.1 L174.3 404.1 L176.9 404.1 L179.5 404.1 L182.1 397.7 L184.8 397.7 L187.4 397.7 L190.0 397.7 L192.6 397.7 L195.3 397.7 L197.9 397.7 L200.5 389.4 L203.1 389.4 L205.7 389.4 L208.4 389.4 L211.0 389.4 L213.6 389.4 L216.2 381.1 L218.9 381.1 L221.5 381.1 L224.1 381.1 L226.7 381.1 L229.3 381.1 L232.0 374.0 L234.6 374.0 L237.2 374.0 L239.8 374.0 L242.5 374.0 L245.1 374.0 L247.7 374.0 L250.3 374.0 L252.9 374.0 L255.6 374.0 L258.2 374.0 L260.8 365.9 L263.4 365.9 L266.1 365.9 L268.7 365.9 L271.3 365.9 L273.9 365.9 L276.5 365.9 L279.2 362.5 L281.8 362.5 L284.4 362.5 L287.0 362.5 L289.7 362.5 L292.3 362.5 L294.9 362.5 L297.5 362.5 L300.1 362.5 L302.8 362.5 L305.4 357.2 L308.0 357.2 L310.6 357.2 L313.3 357.2 L315.9 357.2 L318.5 357.2 L321.1 357.2 L323.7 357.2 L326.4 351.3 L329.0 351.3 L331.6 351.3 L334.2 351.3 L336.9 351.3 L339.5 351.3 L342.1 351.3 L344.7 344.5 L347.3 344.5 L350.0 344.5 L352.6 344.5 L355.2 344.5 L357.8 344.5 L360.5 344.5 L363.1 344.5 L365.7 344.5 L368.3 344.5 L370.9 344.5 L373.6 344.5 L376.2 344.5 L378.8 344.5 L381.4 344.5 L384.1 340.3 L386.7 340.3 L389.3 340.3 L391.9 340.3 L394.5 340.3 L397.2 340.3 L399.8 331.5 L402.4 331.1 L405.0 331.1 L407.7 331.1 L410.3 331.1 L412.9 331.1 L415.5 331.1 L418.1 331.1 L420.8 331.1 L423.4 331.1 L426.0 331.1 L428.6 331.1 L431.3 331.1 L433.9 331.1 L436.5 331.1 L439.1 331.1 L441.7 331.1 L444.4 331.1 L447.0 331.1 L449.6 331.1 L452.2 331.1 L454.9 331.1 L457.5 317.3 L460.1 316.5 L462.7 315.8 L465.3 315.8 L468.0 315.8 L470.6 315.8 L473.2 315.8 L475.8 315.8 L478.5 315.8 L481.1 315.8 L483.7 315.8 L486.3 315.8 L488.9 315.8 L491.6 313.2 L494.2 313.2 L496.8 313.2 L499.4 313.2 L502.1 313.2 L504.7 313.2 L507.3 313.2 L509.9 313.2 L512.5 313.2 L515.2 313.2 L517.8 313.2 L520.4 313.2 L523.0 313.2 L525.7 313.2 L528.3 302.8 L530.9 302.3 L533.5 301.9 L536.1 301.5 L538.8 301.0 L541.4 300.6 L544.0 300.2 L546.6 299.8 L549.3 299.8 L551.9 299.8 L554.5 299.8 L557.1 299.8 L559.7 299.8 L562.4 299.8 L565.0 299.8 L567.6 299.8 L570.2 299.8 L572.9 299.8 L575.5 299.8 L578.1 299.8 L580.7 299.8 L583.3 299.8 L586.0 299.8 L588.6 299.8 L591.2 299.8 L593.8 299.8 L596.5 299.8 L599.1 288.7 L601.7 288.4 L604.3 288.4 L606.9 288.4 L609.6 288.4 L612.2 288.4 L614.8 288.4 L617.4 288.4 L620.1 288.4 L622.7 288.4 L625.3 282.0 L627.9 281.3 L630.5 280.6 L633.2 280.0 L635.8 279.4 L638.4 279.4 L641.0 279.4 L643.7 279.4 L646.3 279.4 L648.9 279.4 L651.5 279.4 L654.1 279.4 L656.8 279.4 L659.4 279.4 L662.0 279.4 L664.6 279.4 L667.3 279.4 L669.9 279.4 L672.5 279.4 L675.1 279.4 L677.7 279.4 L680.4 279.4 L683.0 279.4 L685.6 279.4 L688.2 279.4 L690.9 279.4 L693.5 279.4 L696.1 279.4 L698.7 279.4 L701.3 269.3 L704.0 269.3 L706.6 269.3 L709.2 269.3 L711.8 269.3 L714.5 269.3 L717.1 269.3 L719.7 269.3 L722.3 269.3 L724.9 269.3 L727.6 269.3 L730.2 269.3 L732.8 269.3 L735.4 269.3 L738.1 269.3 L740.7 264.5 L743.3 264.5 L745.9 264.5 L748.5 264.5 L751.2 264.5 L753.8 264.5 L756.4 264.5 L759.0 264.5 L761.7 264.5 L764.3 264.5 L766.9 264.5 L769.5 264.5 L772.1 264.5 L774.8 264.5 L777.4 264.5 L780.0 264.5 L782.6 264.5 L785.3 264.5 L787.9 264.5 L790.5 264.5 L793.1 264.5 L795.7 264.5 L798.4 264.5 L801.0 264.5 L803.6 264.5 L806.2 264.5 L808.9 257.7 L811.5 257.7 L814.1 257.7 L816.7 257.7 L819.3 257.7 L822.0 257.7 L824.6 257.7 L827.2 257.7 L829.8 257.7 L832.5 257.7 L835.1 257.7 L837.7 257.7 L840.3 257.7 L842.9 257.7 L845.6 252.1 L848.2 252.1 L850.8 252.1 L853.4 252.1 L856.1 252.1 L858.7 252.1 L861.3 252.1 L863.9 252.1 L866.5 252.1 L869.2 252.1 L871.8 252.1 L874.4 252.1 L877.0 252.1 L879.7 252.1 L882.3 252.1 L884.9 251.8 L887.5 251.8 L890.1 251.8 L892.8 251.8 L895.4 251.8 L898.0 251.8 L900.6 251.8 L903.3 251.8 L905.9 251.8 L908.5 249.4" stroke="#1BA0BC" stroke-width="3.9" fill="none" stroke-linejoin="round" stroke-linecap="round"/>
<path d="M72.0 496.3 L74.6 496.3 L77.3 486.3 L79.9 486.3 L82.5 486.3 L85.1 480.7 L87.7 480.7 L90.4 474.6 L93.0 474.6 L95.6 474.6 L98.2 466.2 L100.9 466.2 L103.5 466.2 L106.1 458.1 L108.7 458.1 L111.3 451.0 L114.0 451.0 L116.6 451.0 L119.2 439.0 L121.8 439.0 L124.5 439.0 L127.1 439.0 L129.7 439.0 L132.3 439.0 L134.9 439.0 L137.6 424.5 L140.2 424.5 L142.8 424.5 L145.4 424.5 L148.1 424.5 L150.7 424.5 L153.3 424.5 L155.9 420.1 L158.5 420.1 L161.2 420.1 L163.8 420.1 L166.4 414.7 L169.0 414.7 L171.7 414.7 L174.3 414.7 L176.9 410.7 L179.5 410.7 L182.1 410.7 L184.8 410.7 L187.4 410.7 L190.0 410.7 L192.6 403.2 L195.3 403.2 L197.9 403.2 L200.5 403.2 L203.1 396.9 L205.7 396.9 L208.4 396.9 L211.0 396.9 L213.6 396.9 L216.2 394.5 L218.9 394.5 L221.5 394.5 L224.1 391.7 L226.7 391.7 L229.3 391.7 L232.0 391.7 L234.6 391.7 L237.2 384.7 L239.8 384.7 L242.5 384.7 L245.1 384.7 L247.7 384.7 L250.3 384.7 L252.9 384.7 L255.6 384.7 L258.2 384.7 L260.8 384.7 L263.4 384.7 L266.1 377.0 L268.7 377.0 L271.3 377.0 L273.9 377.0 L276.5 377.0 L279.2 372.1 L281.8 372.1 L284.4 372.1 L287.0 372.1 L289.7 372.1 L292.3 372.1 L294.9 372.1 L297.5 372.1 L300.1 372.1 L302.8 372.1 L305.4 366.8 L308.0 366.8 L310.6 366.8 L313.3 366.8 L315.9 366.8 L318.5 366.8 L321.1 366.8 L323.7 366.8 L326.4 366.8 L329.0 366.8 L331.6 360.8 L334.2 360.8 L336.9 360.8 L339.5 360.8 L342.1 360.8 L344.7 360.8 L347.3 360.8 L350.0 358.4 L352.6 358.4 L355.2 358.4 L357.8 358.4 L360.5 358.4 L363.1 358.4 L365.7 358.4 L368.3 358.4 L370.9 358.4 L373.6 358.4 L376.2 358.4 L378.8 348.6 L381.4 348.6 L384.1 348.6 L386.7 348.6 L389.3 348.6 L391.9 348.6 L394.5 348.6 L397.2 348.6 L399.8 348.6 L402.4 342.1 L405.0 342.1 L407.7 342.1 L410.3 342.1 L412.9 342.1 L415.5 342.1 L418.1 342.1 L420.8 342.1 L423.4 342.1 L426.0 342.1 L428.6 342.1 L431.3 342.1 L433.9 342.1 L436.5 342.1 L439.1 342.1 L441.7 342.1 L444.4 342.1 L447.0 342.1 L449.6 342.1 L452.2 342.1 L454.9 342.1 L457.5 329.0 L460.1 329.0 L462.7 329.0 L465.3 329.0 L468.0 329.0 L470.6 329.0 L473.2 329.0 L475.8 329.0 L478.5 329.0 L481.1 329.0 L483.7 329.0 L486.3 329.0 L488.9 329.0 L491.6 329.0 L494.2 321.6 L496.8 321.6 L499.4 321.6 L502.1 321.6 L504.7 321.6 L507.3 321.6 L509.9 321.6 L512.5 321.6 L515.2 321.6 L517.8 321.6 L520.4 321.6 L523.0 316.0 L525.7 316.0 L528.3 316.0 L530.9 316.0 L533.5 316.0 L536.1 316.0 L538.8 316.0 L541.4 316.0 L544.0 316.0 L546.6 316.0 L549.3 316.0 L551.9 316.0 L554.5 316.0 L557.1 308.4 L559.7 308.4 L562.4 308.4 L565.0 308.4 L567.6 308.4 L570.2 308.4 L572.9 308.4 L575.5 308.4 L578.1 308.4 L580.7 308.4 L583.3 308.4 L586.0 308.4 L588.6 308.4 L591.2 308.4 L593.8 308.4 L596.5 308.4 L599.1 305.0 L601.7 305.0 L604.3 305.0 L606.9 305.0 L609.6 305.0 L612.2 305.0 L614.8 305.0 L617.4 305.0 L620.1 305.0 L622.7 305.0 L625.3 305.0 L627.9 296.0 L630.5 296.0 L633.2 296.0 L635.8 296.0 L638.4 296.0 L641.0 296.0 L643.7 296.0 L646.3 296.0 L648.9 296.0 L651.5 296.0 L654.1 296.0 L656.8 296.0 L659.4 296.0 L662.0 296.0 L664.6 296.0 L667.3 296.0 L669.9 296.0 L672.5 286.5 L675.1 286.5 L677.7 286.5 L680.4 286.5 L683.0 286.5 L685.6 286.5 L688.2 286.5 L690.9 286.5 L693.5 286.5 L696.1 286.5 L698.7 286.5 L701.3 286.5 L704.0 286.5 L706.6 276.3 L709.2 276.3 L711.8 276.3 L714.5 276.3 L717.1 276.3 L719.7 276.3 L722.3 276.3 L724.9 276.3 L727.6 276.3 L730.2 276.3 L732.8 276.3 L735.4 277.5 L738.1 277.5 L740.7 277.5 L743.3 277.5 L745.9 277.5 L748.5 277.5 L751.2 277.5 L753.8 277.5 L756.4 277.5 L759.0 277.5 L761.7 277.5 L764.3 277.5 L766.9 277.5 L769.5 277.5 L772.1 271.6 L774.8 271.6 L777.4 271.6 L780.0 271.6 L782.6 271.6 L785.3 271.6 L787.9 271.6 L790.5 271.6 L793.1 271.6 L795.7 271.6 L798.4 271.6 L801.0 271.6 L803.6 271.6 L806.2 271.6 L808.9 271.6 L811.5 271.6 L814.1 271.6 L816.7 271.6 L819.3 271.6 L822.0 271.6 L824.6 271.6 L827.2 271.6 L829.8 271.6 L832.5 271.6 L835.1 271.6 L837.7 271.6 L840.3 271.6 L842.9 271.6 L845.6 271.6 L848.2 271.6 L850.8 267.7 L853.4 267.7 L856.1 267.7 L858.7 267.7 L861.3 267.7 L863.9 267.7 L866.5 267.7 L869.2 267.7 L871.8 267.7 L874.4 267.7 L877.0 267.7 L879.7 267.7 L882.3 261.8 L884.9 261.8 L887.5 261.8 L890.1 261.8 L892.8 261.8 L895.4 261.8 L898.0 261.8 L900.6 261.8 L903.3 261.8 L905.9 261.8 L908.5 258.5" stroke="#F98330" stroke-width="3.9" fill="none" stroke-linejoin="round" stroke-linecap="round"/>
<path d="M72.0 508.8 L74.6 508.8 L77.3 505.3 L79.9 505.3 L82.5 500.5 L85.1 500.5 L87.7 492.9 L90.4 492.9 L93.0 492.9 L95.6 490.7 L98.2 490.7 L100.9 478.7 L103.5 478.7 L106.1 478.7 L108.7 472.2 L111.3 472.2 L114.0 472.2 L116.6 456.5 L119.2 456.5 L121.8 456.5 L124.5 456.5 L127.1 456.5 L129.7 456.5 L132.3 446.4 L134.9 446.4 L137.6 446.4 L140.2 446.4 L142.8 446.4 L145.4 438.0 L148.1 438.0 L150.7 438.0 L153.3 438.0 L155.9 438.0 L158.5 438.0 L161.2 432.5 L163.8 432.5 L166.4 432.5 L169.0 432.5 L171.7 432.5 L174.3 428.7 L176.9 428.7 L179.5 428.7 L182.1 428.7 L184.8 428.7 L187.4 428.7 L190.0 428.7 L192.6 421.1 L195.3 421.1 L197.9 421.1 L200.5 421.1 L203.1 421.1 L205.7 421.1 L208.4 421.1 L211.0 411.8 L213.6 411.8 L216.2 411.8 L218.9 411.8 L221.5 409.9 L224.1 409.9 L226.7 409.9 L229.3 409.9 L232.0 409.9 L234.6 409.9 L237.2 409.9 L239.8 409.9 L242.5 409.9 L245.1 409.9 L247.7 409.9 L250.3 401.8 L252.9 401.8 L255.6 401.8 L258.2 401.8 L260.8 401.8 L263.4 401.8 L266.1 401.8 L268.7 401.8 L271.3 401.8 L273.9 401.8 L276.5 401.8 L279.2 394.8 L281.8 394.8 L284.4 394.8 L287.0 394.8 L289.7 394.8 L292.3 394.8 L294.9 394.1 L297.5 394.1 L300.1 394.1 L302.8 394.1 L305.4 394.1 L308.0 394.1 L310.6 384.4 L313.3 384.4 L315.9 384.4 L318.5 384.4 L321.1 384.4 L323.7 381.4 L326.4 381.4 L329.0 381.4 L331.6 381.4 L334.2 381.4 L336.9 375.0 L339.5 375.0 L342.1 375.0 L344.7 375.0 L347.3 375.0 L350.0 375.0 L352.6 375.0 L355.2 375.0 L357.8 375.0 L360.5 375.0 L363.1 375.0 L365.7 375.0 L368.3 375.0 L370.9 375.0 L373.6 375.0 L376.2 375.0 L378.8 375.0 L381.4 375.0 L384.1 368.4 L386.7 368.4 L389.3 368.4 L391.9 368.4 L394.5 368.4 L397.2 368.4 L399.8 368.4 L402.4 360.5 L405.0 360.5 L407.7 360.5 L410.3 360.5 L412.9 360.5 L415.5 360.5 L418.1 360.5 L420.8 360.5 L423.4 360.5 L426.0 360.5 L428.6 360.5 L431.3 353.3 L433.9 353.3 L436.5 353.3 L439.1 353.3 L441.7 353.3 L444.4 353.3 L447.0 353.3 L449.6 353.3 L452.2 353.3 L454.9 353.3 L457.5 353.3 L460.1 348.7 L462.7 348.7 L465.3 348.7 L468.0 348.7 L470.6 348.7 L473.2 348.7 L475.8 348.7 L478.5 348.7 L481.1 348.7 L483.7 348.7 L486.3 348.7 L488.9 339.4 L491.6 339.4 L494.2 339.4 L496.8 339.4 L499.4 339.4 L502.1 339.4 L504.7 339.4 L507.3 339.4 L509.9 339.4 L512.5 339.4 L515.2 339.4 L517.8 339.4 L520.4 339.4 L523.0 339.4 L525.7 334.9 L528.3 334.9 L530.9 334.9 L533.5 334.9 L536.1 334.9 L538.8 334.9 L541.4 334.9 L544.0 334.9 L546.6 334.9 L549.3 334.9 L551.9 334.9 L554.5 334.9 L557.1 326.4 L559.7 326.4 L562.4 326.4 L565.0 326.4 L567.6 326.4 L570.2 326.4 L572.9 326.4 L575.5 326.4 L578.1 326.4 L580.7 326.4 L583.3 326.4 L586.0 326.4 L588.6 326.4 L591.2 326.4 L593.8 326.4 L596.5 326.4 L599.1 318.9 L601.7 318.9 L604.3 318.9 L606.9 318.9 L609.6 318.9 L612.2 318.9 L614.8 318.9 L617.4 318.9 L620.1 318.9 L622.7 318.9 L625.3 318.9 L627.9 318.9 L630.5 309.4 L633.2 309.4 L635.8 309.4 L638.4 309.4 L641.0 309.4 L643.7 309.4 L646.3 309.4 L648.9 309.4 L651.5 309.4 L654.1 309.4 L656.8 309.4 L659.4 309.4 L662.0 309.4 L664.6 309.4 L667.3 309.4 L669.9 309.4 L672.5 303.3 L675.1 303.3 L677.7 303.3 L680.4 303.3 L683.0 303.3 L685.6 303.3 L688.2 303.3 L690.9 303.3 L693.5 303.3 L696.1 303.3 L698.7 303.3 L701.3 303.3 L704.0 303.3 L706.6 299.3 L709.2 299.3 L711.8 299.3 L714.5 299.3 L717.1 299.3 L719.7 299.3 L722.3 299.3 L724.9 299.3 L727.6 299.3 L730.2 299.3 L732.8 299.3 L735.4 292.9 L738.1 292.9 L740.7 292.9 L743.3 292.9 L745.9 292.9 L748.5 292.9 L751.2 292.9 L753.8 292.9 L756.4 292.9 L759.0 292.9 L761.7 292.9 L764.3 292.9 L766.9 292.9 L769.5 292.9 L772.1 292.9 L774.8 289.0 L777.4 289.0 L780.0 289.0 L782.6 289.0 L785.3 289.0 L787.9 289.0 L790.5 289.0 L793.1 289.0 L795.7 289.0 L798.4 289.0 L801.0 289.0 L803.6 289.0 L806.2 289.0 L808.9 289.4 L811.5 289.4 L814.1 289.4 L816.7 289.4 L819.3 289.4 L822.0 289.4 L824.6 289.4 L827.2 289.4 L829.8 289.4 L832.5 289.4 L835.1 289.4 L837.7 289.4 L840.3 289.4 L842.9 289.4 L845.6 289.4 L848.2 286.1 L850.8 286.1 L853.4 286.1 L856.1 286.1 L858.7 286.1 L861.3 286.1 L863.9 286.1 L866.5 286.1 L869.2 286.1 L871.8 286.1 L874.4 286.1 L877.0 286.1 L879.7 286.1 L882.3 286.1 L884.9 286.1 L887.5 283.8 L890.1 283.8 L892.8 283.8 L895.4 283.8 L898.0 283.8 L900.6 283.8 L903.3 283.8 L905.9 283.8 L908.5 278.5" stroke="#5A8AC6" stroke-width="3.9" fill="none" stroke-linejoin="round" stroke-linecap="round"/>
<path d="M72.0 507.8 L74.6 507.8 L77.3 507.8 L79.9 511.2 L82.5 511.2 L85.1 508.8 L87.7 506.2 L90.4 495.4 L93.0 495.4 L95.6 495.4 L98.2 489.9 L100.9 489.9 L103.5 487.8 L106.1 480.6 L108.7 480.6 L111.3 479.2 L114.0 471.1 L116.6 471.1 L119.2 471.1 L121.8 468.6 L124.5 466.0 L127.1 453.3 L129.7 453.3 L132.3 453.3 L134.9 453.3 L137.6 453.3 L140.2 446.6 L142.8 446.6 L145.4 446.6 L148.1 443.2 L150.7 443.2 L153.3 443.2 L155.9 443.2 L158.5 443.2 L161.2 443.2 L163.8 438.8 L166.4 438.8 L169.0 438.8 L171.7 438.8 L174.3 438.8 L176.9 438.8 L179.5 434.0 L182.1 434.0 L184.8 434.0 L187.4 434.0 L190.0 433.7 L192.6 430.0 L195.3 430.0 L197.9 430.0 L200.5 421.1 L203.1 421.1 L205.7 421.1 L208.4 421.1 L211.0 421.1 L213.6 421.1 L216.2 421.1 L218.9 418.2 L221.5 418.2 L224.1 418.2 L226.7 418.2 L229.3 418.2 L232.0 411.2 L234.6 411.2 L237.2 411.2 L239.8 411.2 L242.5 411.2 L245.1 411.2 L247.7 411.2 L250.3 411.2 L252.9 411.2 L255.6 408.7 L258.2 408.7 L260.8 408.7 L263.4 408.7 L266.1 408.7 L268.7 408.7 L271.3 408.1 L273.9 407.3 L276.5 406.6 L279.2 401.1 L281.8 401.1 L284.4 401.1 L287.0 401.1 L289.7 401.1 L292.3 401.1 L294.9 401.1 L297.5 400.9 L300.1 400.1 L302.8 399.4 L305.4 398.6 L308.0 390.7 L310.6 390.7 L313.3 390.7 L315.9 390.7 L318.5 390.7 L321.1 390.7 L323.7 390.7 L326.4 390.7 L329.0 390.5 L331.6 390.0 L334.2 389.5 L336.9 385.9 L339.5 385.9 L342.1 385.9 L344.7 385.9 L347.3 385.9 L350.0 385.9 L352.6 385.9 L355.2 381.3 L357.8 381.3 L360.5 381.3 L363.1 381.3 L365.7 381.3 L368.3 381.3 L370.9 381.3 L373.6 381.3 L376.2 381.3 L378.8 381.0 L381.4 380.3 L384.1 374.1 L386.7 374.1 L389.3 374.1 L391.9 374.1 L394.5 374.1 L397.2 374.1 L399.8 374.1 L402.4 372.2 L405.0 372.2 L407.7 372.2 L410.3 372.2 L412.9 372.2 L415.5 372.1 L418.1 371.6 L420.8 371.0 L423.4 370.5 L426.0 370.0 L428.6 369.5 L431.3 357.4 L433.9 357.4 L436.5 357.4 L439.1 357.4 L441.7 357.4 L444.4 357.4 L447.0 357.4 L449.6 357.4 L452.2 357.4 L454.9 357.4 L457.5 357.4 L460.1 357.4 L462.7 357.4 L465.3 357.4 L468.0 357.4 L470.6 357.4 L473.2 357.4 L475.8 357.4 L478.5 357.4 L481.1 357.4 L483.7 357.4 L486.3 356.9 L488.9 356.4 L491.6 350.4 L494.2 350.4 L496.8 350.4 L499.4 350.4 L502.1 350.4 L504.7 350.4 L507.3 350.4 L509.9 350.4 L512.5 350.4 L515.2 350.4 L517.8 350.2 L520.4 349.6 L523.0 348.9 L525.7 348.3 L528.3 339.0 L530.9 339.0 L533.5 339.0 L536.1 339.0 L538.8 339.0 L541.4 339.0 L544.0 339.0 L546.6 339.0 L549.3 339.0 L551.9 339.0 L554.5 339.0 L557.1 337.4 L559.7 337.4 L562.4 337.4 L565.0 337.4 L567.6 337.4 L570.2 337.4 L572.9 337.4 L575.5 337.3 L578.1 336.8 L580.7 336.3 L583.3 335.9 L586.0 335.5 L588.6 335.1 L591.2 334.7 L593.8 334.3 L596.5 333.2 L599.1 333.2 L601.7 333.0 L604.3 332.4 L606.9 331.9 L609.6 331.4 L612.2 330.9 L614.8 330.3 L617.4 329.8 L620.1 329.3 L622.7 328.8 L625.3 321.3 L627.9 321.3 L630.5 321.3 L633.2 321.3 L635.8 321.3 L638.4 321.3 L641.0 321.3 L643.7 321.3 L646.3 321.3 L648.9 321.3 L651.5 321.3 L654.1 321.3 L656.8 321.3 L659.4 321.3 L662.0 320.9 L664.6 320.4 L667.3 319.8 L669.9 312.2 L672.5 312.2 L675.1 312.2 L677.7 312.2 L680.4 312.2 L683.0 312.2 L685.6 312.2 L688.2 312.2 L690.9 312.2 L693.5 312.2 L696.1 312.2 L698.7 312.2 L701.3 307.1 L704.0 307.1 L706.6 307.1 L709.2 307.1 L711.8 307.1 L714.5 307.1 L717.1 307.1 L719.7 307.1 L722.3 307.1 L724.9 307.1 L727.6 307.1 L730.2 307.1 L732.8 307.1 L735.4 307.1 L738.1 303.9 L740.7 303.9 L743.3 303.9 L745.9 303.9 L748.5 303.9 L751.2 303.9 L753.8 303.9 L756.4 303.9 L759.0 303.9 L761.7 303.9 L764.3 303.9 L766.9 303.9 L769.5 303.9 L772.1 298.6 L774.8 298.6 L777.4 298.6 L780.0 298.6 L782.6 298.6 L785.3 298.6 L787.9 298.6 L790.5 298.6 L793.1 298.6 L795.7 298.6 L798.4 298.6 L801.0 298.6 L803.6 298.6 L806.2 298.6 L808.9 298.6 L811.5 298.6 L814.1 297.3 L816.7 297.3 L819.3 297.3 L822.0 297.2 L824.6 296.7 L827.2 296.3 L829.8 295.8 L832.5 295.7 L835.1 295.5 L837.7 295.4 L840.3 295.3 L842.9 295.1 L845.6 295.0 L848.2 292.8 L850.8 292.8 L853.4 292.8 L856.1 292.8 L858.7 292.8 L861.3 292.8 L863.9 292.8 L866.5 292.8 L869.2 292.8 L871.8 292.8 L874.4 292.8 L877.0 292.8 L879.7 292.8 L882.3 292.8 L884.9 292.8 L887.5 292.6 L890.1 292.6 L892.8 292.6 L895.4 292.4 L898.0 292.3 L900.6 292.1 L903.3 291.9 L905.9 291.7 L908.5 289.5" stroke="#DC6B6B" stroke-width="3.9" fill="none" stroke-linejoin="round" stroke-linecap="round"/>
<path d="M72.0 488.9 L74.6 488.9 L77.3 488.9 L79.9 485.4 L82.5 485.4 L85.1 482.1 L87.7 482.1 L90.4 482.1 L93.0 474.9 L95.6 474.9 L98.2 474.9 L100.9 462.9 L103.5 462.9 L106.1 462.9 L108.7 460.5 L111.3 460.5 L114.0 449.6 L116.6 449.6 L119.2 449.6 L121.8 436.3 L124.5 436.3 L127.1 436.3 L129.7 436.3 L132.3 436.3 L134.9 428.4 L137.6 428.4 L140.2 428.4 L142.8 428.4 L145.4 428.4 L148.1 428.4 L150.7 420.3 L153.3 420.3 L155.9 420.3 L158.5 420.3 L161.2 420.3 L163.8 420.3 L166.4 417.6 L169.0 417.6 L171.7 417.6 L174.3 415.8 L176.9 415.8 L179.5 415.8 L182.1 409.6 L184.8 409.6 L187.4 409.6 L190.0 409.6 L192.6 409.6 L195.3 409.6 L197.9 402.9 L200.5 402.9 L203.1 402.9 L205.7 402.9 L208.4 402.9 L211.0 393.5 L213.6 393.5 L216.2 393.5 L218.9 393.5 L221.5 393.5 L224.1 393.5 L226.7 393.5 L229.3 387.5 L232.0 387.5 L234.6 387.5 L237.2 387.5 L239.8 387.5 L242.5 387.5 L245.1 385.2 L247.7 385.2 L250.3 385.2 L252.9 385.2 L255.6 385.2 L258.2 385.2 L260.8 385.2 L263.4 385.2 L266.1 385.2 L268.7 379.4 L271.3 379.4 L273.9 379.4 L276.5 379.4 L279.2 379.4 L281.8 379.4 L284.4 373.9 L287.0 373.9 L289.7 373.9 L292.3 373.9 L294.9 373.9 L297.5 369.2 L300.1 369.2 L302.8 369.2 L305.4 369.2 L308.0 369.2 L310.6 369.2 L313.3 369.2 L315.9 369.2 L318.5 369.2 L321.1 365.0 L323.7 365.0 L326.4 365.0 L329.0 365.0 L331.6 365.0 L334.2 365.0 L336.9 365.0 L339.5 360.3 L342.1 360.3 L344.7 360.3 L347.3 360.3 L350.0 356.4 L352.6 356.4 L355.2 356.4 L357.8 356.4 L360.5 356.4 L363.1 356.4 L365.7 356.4 L368.3 356.4 L370.9 356.4 L373.6 356.4 L376.2 356.4 L378.8 356.4 L381.4 349.7 L384.1 349.7 L386.7 349.7 L389.3 349.7 L391.9 349.7 L394.5 349.7 L397.2 349.7 L399.8 349.7 L402.4 347.5 L405.0 347.5 L407.7 347.5 L410.3 347.5 L412.9 347.5 L415.5 347.5 L418.1 347.5 L420.8 347.5 L423.4 347.5 L426.0 347.5 L428.6 339.8 L431.3 339.8 L433.9 339.8 L436.5 339.8 L439.1 339.8 L441.7 339.8 L444.4 339.8 L447.0 339.8 L449.6 339.8 L452.2 339.8 L454.9 339.8 L457.5 331.6 L460.1 331.6 L462.7 331.6 L465.3 331.6 L468.0 331.6 L470.6 331.6 L473.2 331.6 L475.8 331.6 L478.5 331.6 L481.1 331.6 L483.7 331.6 L486.3 331.6 L488.9 331.6 L491.6 331.6 L494.2 331.6 L496.8 331.6 L499.4 331.6 L502.1 331.6 L504.7 331.6 L507.3 331.6 L509.9 331.6 L512.5 331.6 L515.2 331.6 L517.8 331.6 L520.4 331.6 L523.0 331.6 L525.7 331.6 L528.3 319.0 L530.9 319.0 L533.5 319.0 L536.1 319.0 L538.8 319.0 L541.4 319.0 L544.0 319.0 L546.6 319.0 L549.3 319.0 L551.9 319.0 L554.5 319.0 L557.1 319.0 L559.7 311.6 L562.4 311.6 L565.0 311.6 L567.6 311.6 L570.2 311.6 L572.9 311.6 L575.5 311.6 L578.1 311.6 L580.7 311.6 L583.3 311.6 L586.0 311.6 L588.6 311.6 L591.2 311.6 L593.8 311.6 L596.5 311.6 L599.1 304.8 L601.7 304.8 L604.3 304.8 L606.9 304.8 L609.6 304.8 L612.2 304.8 L614.8 304.8 L617.4 304.8 L620.1 304.8 L622.7 304.8 L625.3 299.3 L627.9 299.3 L630.5 299.3 L633.2 299.3 L635.8 299.3 L638.4 299.3 L641.0 299.3 L643.7 299.3 L646.3 299.3 L648.9 299.3 L651.5 299.3 L654.1 299.3 L656.8 299.3 L659.4 299.3 L662.0 299.3 L664.6 299.3 L667.3 291.5 L669.9 291.5 L672.5 291.5 L675.1 291.5 L677.7 291.5 L680.4 291.5 L683.0 291.5 L685.6 291.5 L688.2 291.5 L690.9 291.5 L693.5 291.5 L696.1 291.5 L698.7 291.5 L701.3 287.6 L704.0 287.6 L706.6 287.6 L709.2 287.6 L711.8 287.6 L714.5 287.6 L717.1 287.6 L719.7 287.6 L722.3 287.6 L724.9 287.6 L727.6 287.6 L730.2 287.6 L732.8 287.6 L735.4 287.6 L738.1 287.6 L740.7 287.6 L743.3 287.6 L745.9 287.6 L748.5 287.6 L751.2 287.6 L753.8 287.6 L756.4 287.6 L759.0 287.6 L761.7 287.6 L764.3 287.6 L766.9 287.6 L769.5 287.6 L772.1 287.6 L774.8 279.0 L777.4 279.0 L780.0 279.0 L782.6 279.0 L785.3 279.0 L787.9 279.0 L790.5 279.0 L793.1 279.0 L795.7 279.0 L798.4 279.0 L801.0 279.0 L803.6 279.0 L806.2 279.0 L808.9 279.0 L811.5 279.0 L814.1 264.7 L816.7 264.7 L819.3 264.7 L822.0 264.7 L824.6 264.7 L827.2 264.7 L829.8 264.7 L832.5 264.7 L835.1 264.7 L837.7 264.7 L840.3 264.7 L842.9 264.7 L845.6 264.7 L848.2 265.3 L850.8 265.3 L853.4 265.3 L856.1 265.3 L858.7 265.3 L861.3 265.3 L863.9 265.3 L866.5 265.3 L869.2 265.3 L871.8 265.3 L874.4 265.3 L877.0 265.3 L879.7 265.3 L882.3 265.3 L884.9 262.1 L887.5 262.1 L890.1 262.1 L892.8 262.1 L895.4 262.1 L898.0 262.1 L900.6 262.1 L903.3 262.1 L905.9 262.1 L908.5 260.4" stroke="#98C270" stroke-width="3.9" fill="none" stroke-linejoin="round" stroke-linecap="round"/>
<path d="M72.0 514.0 L74.6 513.4 L77.3 512.2 L79.9 512.2 L82.5 511.6 L85.1 506.2 L87.7 506.2 L90.4 501.8 L93.0 496.6 L95.6 496.6 L98.2 494.0 L100.9 487.8 L103.5 487.8 L106.1 484.7 L108.7 479.2 L111.3 479.2 L114.0 476.5 L116.6 473.9 L119.2 471.3 L121.8 468.6 L124.5 466.0 L127.1 463.8 L129.7 461.7 L132.3 459.7 L134.9 457.7 L137.6 455.9 L140.2 454.1 L142.8 450.7 L145.4 450.7 L148.1 449.3 L150.7 448.0 L153.3 447.0 L155.9 446.3 L158.5 445.5 L161.2 444.7 L163.8 443.9 L166.4 443.1 L169.0 442.2 L171.7 440.1 L174.3 440.1 L176.9 439.0 L179.5 438.0 L182.1 436.9 L184.8 434.8 L187.4 434.8 L190.0 433.7 L192.6 431.6 L195.3 431.6 L197.9 430.6 L200.5 426.8 L203.1 426.8 L205.7 426.8 L208.4 425.4 L211.0 424.1 L213.6 422.1 L216.2 422.1 L218.9 421.5 L221.5 421.0 L224.1 419.3 L226.7 419.3 L229.3 419.3 L232.0 418.8 L234.6 418.2 L237.2 416.5 L239.8 416.5 L242.5 416.5 L245.1 415.7 L247.7 415.0 L250.3 413.4 L252.9 413.4 L255.6 412.7 L258.2 411.9 L260.8 409.6 L263.4 409.6 L266.1 409.6 L268.7 408.8 L271.3 408.1 L273.9 405.9 L276.5 405.9 L279.2 405.9 L281.8 405.2 L284.4 404.4 L287.0 403.7 L289.7 401.6 L292.3 401.6 L294.9 401.6 L297.5 400.9 L300.1 400.1 L302.8 399.4 L305.4 397.7 L308.0 397.7 L310.6 396.8 L313.3 394.1 L315.9 394.1 L318.5 394.1 L321.1 393.2 L323.7 392.3 L326.4 390.5 L329.0 390.5 L331.6 390.0 L334.2 389.5 L336.9 388.3 L339.5 388.3 L342.1 388.3 L344.7 387.9 L347.3 387.5 L350.0 387.1 L352.6 385.9 L355.2 385.9 L357.8 385.9 L360.5 385.5 L363.1 385.1 L365.7 383.2 L368.3 383.2 L370.9 383.2 L373.6 382.5 L376.2 381.7 L378.8 381.0 L381.4 378.1 L384.1 378.1 L386.7 378.1 L389.3 378.1 L391.9 377.4 L394.5 376.7 L397.2 376.0 L399.8 375.3 L402.4 372.6 L405.0 372.6 L407.7 372.6 L410.3 372.6 L412.9 372.6 L415.5 372.1 L418.1 371.6 L420.8 371.0 L423.4 370.5 L426.0 370.0 L428.6 368.4 L431.3 368.4 L433.9 368.4 L436.5 367.7 L439.1 366.9 L441.7 366.1 L444.4 363.6 L447.0 363.6 L449.6 363.6 L452.2 363.1 L454.9 362.7 L457.5 362.2 L460.1 360.9 L462.7 360.9 L465.3 360.9 L468.0 360.4 L470.6 360.0 L473.2 359.5 L475.8 358.0 L478.5 358.0 L481.1 358.0 L483.7 357.5 L486.3 356.9 L488.9 356.4 L491.6 354.8 L494.2 354.8 L496.8 354.8 L499.4 354.3 L502.1 353.8 L504.7 353.3 L507.3 350.9 L509.9 350.9 L512.5 350.9 L515.2 350.9 L517.8 350.2 L520.4 349.6 L523.0 348.9 L525.7 346.9 L528.3 346.9 L530.9 346.9 L533.5 346.3 L536.1 345.6 L538.8 345.0 L541.4 343.1 L544.0 343.1 L546.6 343.1 L549.3 342.5 L551.9 342.0 L554.5 341.5 L557.1 339.4 L559.7 339.4 L562.4 339.4 L565.0 339.4 L567.6 338.9 L570.2 338.4 L572.9 337.8 L575.5 335.9 L578.1 335.9 L580.7 335.9 L583.3 335.9 L586.0 335.5 L588.6 335.1 L591.2 334.7 L593.8 334.3 L596.5 333.0 L599.1 333.0 L601.7 333.0 L604.3 332.4 L606.9 331.9 L609.6 331.4 L612.2 329.8 L614.8 329.8 L617.4 329.8 L620.1 329.3 L622.7 328.8 L625.3 328.2 L627.9 326.1 L630.5 326.1 L633.2 326.1 L635.8 326.1 L638.4 325.6 L641.0 325.1 L643.7 324.6 L646.3 324.0 L648.9 321.9 L651.5 321.9 L654.1 321.9 L656.8 321.9 L659.4 321.4 L662.0 320.9 L664.6 320.4 L667.3 319.8 L669.9 318.5 L672.5 318.5 L675.1 318.5 L677.7 318.1 L680.4 317.8 L683.0 317.4 L685.6 315.8 L688.2 315.8 L690.9 315.8 L693.5 315.8 L696.1 315.4 L698.7 315.0 L701.3 314.6 L704.0 313.5 L706.6 313.5 L709.2 313.5 L711.8 313.1 L714.5 312.7 L717.1 312.3 L719.7 310.7 L722.3 310.7 L724.9 310.7 L727.6 310.7 L730.2 310.3 L732.8 309.9 L735.4 309.5 L738.1 307.7 L740.7 307.7 L743.3 307.7 L745.9 307.7 L748.5 307.2 L751.2 306.7 L753.8 306.2 L756.4 304.6 L759.0 304.6 L761.7 304.6 L764.3 304.6 L766.9 304.4 L769.5 304.2 L772.1 303.9 L774.8 303.0 L777.4 303.0 L780.0 303.0 L782.6 303.0 L785.3 302.8 L787.9 302.5 L790.5 302.3 L793.1 300.9 L795.7 300.9 L798.4 300.9 L801.0 300.9 L803.6 300.4 L806.2 299.9 L808.9 299.5 L811.5 297.7 L814.1 297.7 L816.7 297.7 L819.3 297.7 L822.0 297.2 L824.6 296.7 L827.2 296.3 L829.8 295.4 L832.5 295.4 L835.1 295.4 L837.7 295.4 L840.3 295.3 L842.9 295.1 L845.6 295.0 L848.2 294.5 L850.8 294.5 L853.4 294.5 L856.1 294.5 L858.7 294.3 L861.3 294.2 L863.9 294.1 L866.5 293.5 L869.2 293.5 L871.8 293.5 L874.4 293.5 L877.0 293.4 L879.7 293.2 L882.3 293.1 L884.9 292.4 L887.5 292.4 L890.1 292.4 L892.8 292.4 L895.4 292.4 L898.0 292.3 L900.6 292.1 L903.3 291.9 L905.9 291.7 L908.5 291.5" stroke="#9C84BE" stroke-width="3.9" fill="none" stroke-linejoin="round" stroke-linecap="round"/>
<path d="M72.0 488.0 L74.6 476.8 L77.3 476.8 L79.9 468.9 L82.5 468.9 L85.1 466.3 L87.7 466.3 L90.4 461.2 L93.0 458.0 L95.6 458.0 L98.2 451.0 L100.9 447.7 L103.5 447.7 L106.1 441.3 L108.7 438.3 L111.3 438.3 L114.0 433.0 L116.6 433.0 L119.2 427.7 L121.8 425.1 L124.5 425.1 L127.1 419.8 L129.7 419.8 L132.3 414.3 L134.9 411.5 L137.6 411.5 L140.2 408.7 L142.8 408.7 L145.4 406.3 L148.1 406.3 L150.7 403.9 L153.3 403.0 L155.9 403.0 L158.5 401.5 L161.2 400.7 L163.8 400.7 L166.4 399.1 L169.0 398.4 L171.7 398.4 L174.3 396.8 L176.9 396.0 L179.5 396.0 L182.1 394.4 L184.8 394.4 L187.4 391.9 L190.0 391.9 L192.6 389.3 L195.3 388.0 L197.9 388.0 L200.5 385.2 L203.1 383.6 L205.7 382.0 L208.4 382.0 L211.0 382.0 L213.6 382.0 L216.2 377.4 L218.9 376.5 L221.5 375.7 L224.1 375.7 L226.7 375.7 L229.3 373.0 L232.0 372.2 L234.6 371.3 L237.2 371.3 L239.8 371.3 L242.5 368.7 L245.1 367.9 L247.7 367.1 L250.3 367.1 L252.9 367.1 L255.6 364.8 L258.2 364.0 L260.8 363.3 L263.4 363.3 L266.1 363.3 L268.7 360.9 L271.3 360.2 L273.9 359.4 L276.5 359.4 L279.2 359.4 L281.8 359.4 L284.4 356.5 L287.0 355.8 L289.7 355.1 L292.3 355.1 L294.9 355.1 L297.5 352.9 L300.1 352.2 L302.8 352.2 L305.4 352.2 L308.0 350.3 L310.6 349.8 L313.3 349.8 L315.9 348.9 L318.5 348.4 L321.1 347.9 L323.7 347.9 L326.4 347.9 L329.0 347.9 L331.6 346.0 L334.2 345.5 L336.9 344.9 L339.5 344.4 L342.1 344.4 L344.7 344.4 L347.3 344.4 L350.0 344.4 L352.6 341.8 L355.2 341.3 L357.8 340.7 L360.5 340.7 L363.1 340.7 L365.7 339.1 L368.3 338.6 L370.9 338.0 L373.6 338.0 L376.2 338.0 L378.8 338.0 L381.4 335.6 L384.1 335.1 L386.7 334.5 L389.3 333.9 L391.9 333.9 L394.5 333.9 L397.2 333.9 L399.8 333.9 L402.4 330.9 L405.0 330.2 L407.7 329.6 L410.3 328.9 L412.9 328.3 L415.5 328.3 L418.1 328.3 L420.8 328.3 L423.4 328.3 L426.0 328.3 L428.6 324.3 L431.3 323.6 L433.9 323.0 L436.5 323.0 L439.1 323.0 L441.7 323.0 L444.4 320.7 L447.0 320.1 L449.6 319.6 L452.2 319.6 L454.9 319.6 L457.5 319.6 L460.1 316.5 L462.7 315.7 L465.3 314.9 L468.0 314.9 L470.6 314.9 L473.2 314.9 L475.8 311.9 L478.5 311.4 L481.1 310.9 L483.7 310.9 L486.3 310.9 L488.9 310.9 L491.6 309.1 L494.2 308.6 L496.8 308.1 L499.4 308.1 L502.1 308.1 L504.7 308.1 L507.3 306.3 L509.9 305.8 L512.5 305.4 L515.2 304.9 L517.8 304.9 L520.4 304.9 L523.0 304.9 L525.7 303.2 L528.3 302.8 L530.9 302.3 L533.5 302.3 L536.1 302.3 L538.8 302.3 L541.4 300.6 L544.0 300.2 L546.6 299.6 L549.3 299.6 L551.9 299.6 L554.5 299.6 L557.1 297.2 L559.7 296.6 L562.4 296.0 L565.0 295.4 L567.6 295.4 L570.2 295.4 L572.9 295.4 L575.5 293.0 L578.1 292.4 L580.7 291.9 L583.3 291.4 L586.0 291.4 L588.6 291.4 L591.2 291.4 L593.8 291.4 L596.5 289.1 L599.1 288.7 L601.7 288.1 L604.3 288.1 L606.9 288.1 L609.6 288.1 L612.2 285.4 L614.8 284.7 L617.4 284.0 L620.1 284.0 L622.7 284.0 L625.3 284.0 L627.9 281.3 L630.5 280.6 L633.2 280.0 L635.8 279.4 L638.4 279.4 L641.0 279.4 L643.7 279.4 L646.3 279.4 L648.9 277.2 L651.5 276.8 L654.1 276.4 L656.8 276.0 L659.4 276.0 L662.0 276.0 L664.6 276.0 L667.3 276.0 L669.9 273.8 L672.5 273.4 L675.1 272.9 L677.7 272.9 L680.4 272.9 L683.0 272.9 L685.6 271.1 L688.2 270.6 L690.9 270.2 L693.5 269.7 L696.1 269.7 L698.7 269.7 L701.3 269.7 L704.0 267.9 L706.6 267.5 L709.2 267.3 L711.8 267.3 L714.5 267.3 L717.1 267.3 L719.7 266.1 L722.3 265.9 L724.9 265.6 L727.6 265.3 L730.2 265.3 L732.8 265.3 L735.4 265.3 L738.1 264.2 L740.7 263.9 L743.3 263.5 L745.9 263.0 L748.5 263.0 L751.2 263.0 L753.8 263.0 L756.4 261.3 L759.0 260.9 L761.7 260.5 L764.3 260.2 L766.9 260.2 L769.5 260.2 L772.1 260.2 L774.8 258.9 L777.4 258.6 L780.0 258.3 L782.6 258.0 L785.3 258.0 L787.9 258.0 L790.5 258.0 L793.1 256.7 L795.7 256.4 L798.4 256.1 L801.0 255.7 L803.6 255.7 L806.2 255.7 L808.9 255.7 L811.5 254.4 L814.1 254.1 L816.7 253.8 L819.3 253.4 L822.0 253.4 L824.6 253.4 L827.2 253.4 L829.8 252.1 L832.5 251.9 L835.1 251.7 L837.7 251.5 L840.3 251.5 L842.9 251.5 L845.6 251.5 L848.2 250.7 L850.8 250.6 L853.4 250.4 L856.1 250.2 L858.7 250.2 L861.3 250.2 L863.9 250.2 L866.5 249.4 L869.2 249.2 L871.8 249.0 L874.4 248.8 L877.0 248.8 L879.7 248.8 L882.3 248.8 L884.9 247.9 L887.5 247.7 L890.1 247.5 L892.8 247.3 L895.4 247.1 L898.0 247.1 L900.6 247.1 L903.3 247.1 L905.9 247.1 L908.5 245.1" stroke="#4FB3CE" stroke-width="3.9" fill="none" stroke-linejoin="round" stroke-linecap="round"/>
<path d="M72.0 504.1 L74.6 504.1 L77.3 493.9 L79.9 493.9 L82.5 493.9 L85.1 492.0 L87.7 492.0 L90.4 484.6 L93.0 484.6 L95.6 477.2 L98.2 477.2 L100.9 477.2 L103.5 467.9 L106.1 467.9 L108.7 467.9 L111.3 458.8 L114.0 458.8 L116.6 458.8 L119.2 458.8 L121.8 445.5 L124.5 445.5 L127.1 445.5 L129.7 445.5 L132.3 445.5 L134.9 445.5 L137.6 432.9 L140.2 432.9 L142.8 432.9 L145.4 429.0 L148.1 429.0 L150.7 429.0 L153.3 426.2 L155.9 426.2 L158.5 426.2 L161.2 426.2 L163.8 426.2 L166.4 426.2 L169.0 426.2 L171.7 420.1 L174.3 420.1 L176.9 420.1 L179.5 420.1 L182.1 420.1 L184.8 420.1 L187.4 417.1 L190.0 417.1 L192.6 417.1 L195.3 415.1 L197.9 415.1 L200.5 415.1 L203.1 415.1 L205.7 404.4 L208.4 404.4 L211.0 404.4 L213.6 404.4 L216.2 404.4 L218.9 404.4 L221.5 404.4 L224.1 398.7 L226.7 398.7 L229.3 398.7 L232.0 398.7 L234.6 398.7 L237.2 398.7 L239.8 398.7 L242.5 398.7 L245.1 398.7 L247.7 398.7 L250.3 393.4 L252.9 393.4 L255.6 393.4 L258.2 393.4 L260.8 393.4 L263.4 393.4 L266.1 389.0 L268.7 389.0 L271.3 389.0 L273.9 389.0 L276.5 389.0 L279.2 389.0 L281.8 379.5 L284.4 379.5 L287.0 379.5 L289.7 379.5 L292.3 379.5 L294.9 379.5 L297.5 379.5 L300.1 379.5 L302.8 379.5 L305.4 379.5 L308.0 375.6 L310.6 375.6 L313.3 375.6 L315.9 375.6 L318.5 375.6 L321.1 375.6 L323.7 375.6 L326.4 375.6 L329.0 375.6 L331.6 375.6 L334.2 375.6 L336.9 372.7 L339.5 372.7 L342.1 372.7 L344.7 372.7 L347.3 372.7 L350.0 372.7 L352.6 362.6 L355.2 362.6 L357.8 362.6 L360.5 362.6 L363.1 362.6 L365.7 362.6 L368.3 362.6 L370.9 362.6 L373.6 362.6 L376.2 362.6 L378.8 362.6 L381.4 360.6 L384.1 360.6 L386.7 360.6 L389.3 360.6 L391.9 360.6 L394.5 360.6 L397.2 360.6 L399.8 360.6 L402.4 354.8 L405.0 354.8 L407.7 354.8 L410.3 354.8 L412.9 354.8 L415.5 354.8 L418.1 354.8 L420.8 354.8 L423.4 354.8 L426.0 337.2 L428.6 337.2 L431.3 337.2 L433.9 337.2 L436.5 337.2 L439.1 337.2 L441.7 337.2 L444.4 337.2 L447.0 337.2 L449.6 337.2 L452.2 337.2 L454.9 337.2 L457.5 337.2 L460.1 337.2 L462.7 337.2 L465.3 337.2 L468.0 337.2 L470.6 337.2 L473.2 337.2 L475.8 337.2 L478.5 337.2 L481.1 337.2 L483.7 337.2 L486.3 337.2 L488.9 337.2 L491.6 337.2 L494.2 337.2 L496.8 337.2 L499.4 337.2 L502.1 337.2 L504.7 337.2 L507.3 337.2 L509.9 337.2 L512.5 337.2 L515.2 337.2 L517.8 337.2 L520.4 337.2 L523.0 326.2 L525.7 326.2 L528.3 326.2 L530.9 326.2 L533.5 326.2 L536.1 326.2 L538.8 326.2 L541.4 326.2 L544.0 326.2 L546.6 326.2 L549.3 326.2 L551.9 326.2 L554.5 326.2 L557.1 311.8 L559.7 311.8 L562.4 311.8 L565.0 311.8 L567.6 311.8 L570.2 311.8 L572.9 311.8 L575.5 311.8 L578.1 311.8 L580.7 311.8 L583.3 311.8 L586.0 311.8 L588.6 311.8 L591.2 311.8 L593.8 311.8 L596.5 311.8 L599.1 311.8 L601.7 311.8 L604.3 311.8 L606.9 311.8 L609.6 311.8 L612.2 311.8 L614.8 311.8 L617.4 311.8 L620.1 311.8 L622.7 311.8 L625.3 311.8 L627.9 306.3 L630.5 306.3 L633.2 306.3 L635.8 306.3 L638.4 306.3 L641.0 306.3 L643.7 306.3 L646.3 306.3 L648.9 306.3 L651.5 306.3 L654.1 306.3 L656.8 306.3 L659.4 306.3 L662.0 306.3 L664.6 306.3 L667.3 306.3 L669.9 306.3 L672.5 298.7 L675.1 298.7 L677.7 298.7 L680.4 298.7 L683.0 298.7 L685.6 298.7 L688.2 298.7 L690.9 298.7 L693.5 298.7 L696.1 298.7 L698.7 298.7 L701.3 298.7 L704.0 298.7 L706.6 291.6 L709.2 291.6 L711.8 291.6 L714.5 291.6 L717.1 291.6 L719.7 291.6 L722.3 291.6 L724.9 291.6 L727.6 291.6 L730.2 291.6 L732.8 291.6 L735.4 291.6 L738.1 288.4 L740.7 288.4 L743.3 288.4 L745.9 288.4 L748.5 288.4 L751.2 288.4 L753.8 288.4 L756.4 288.4 L759.0 288.4 L761.7 288.4 L764.3 288.4 L766.9 288.4 L769.5 288.4 L772.1 288.4 L774.8 288.4 L777.4 281.4 L780.0 281.4 L782.6 281.4 L785.3 281.4 L787.9 281.4 L790.5 281.4 L793.1 281.4 L795.7 281.4 L798.4 281.4 L801.0 281.4 L803.6 281.4 L806.2 281.4 L808.9 281.4 L811.5 278.6 L814.1 278.6 L816.7 278.6 L819.3 278.6 L822.0 278.6 L824.6 278.6 L827.2 278.6 L829.8 278.6 L832.5 278.6 L835.1 278.6 L837.7 278.6 L840.3 278.6 L842.9 278.6 L845.6 278.6 L848.2 278.6 L850.8 278.6 L853.4 278.6 L856.1 278.6 L858.7 278.6 L861.3 278.6 L863.9 278.6 L866.5 278.6 L869.2 278.6 L871.8 278.6 L874.4 278.6 L877.0 278.6 L879.7 278.6 L882.3 278.6 L884.9 274.8 L887.5 274.8 L890.1 274.8 L892.8 274.8 L895.4 274.8 L898.0 274.8 L900.6 274.8 L903.3 274.8 L905.9 274.8 L908.5 273.4" stroke="#FA9E62" stroke-width="3.9" fill="none" stroke-linejoin="round" stroke-linecap="round"/>
<path d="M72.0 505.9 L74.6 505.9 L77.3 497.2 L79.9 497.2 L82.5 497.2 L85.1 496.4 L87.7 496.4 L90.4 487.9 L93.0 487.9 L95.6 482.6 L98.2 482.6 L100.9 482.6 L103.5 473.6 L106.1 473.6 L108.7 464.2 L111.3 464.2 L114.0 464.2 L116.6 454.8 L119.2 454.8 L121.8 454.8 L124.5 454.8 L127.1 454.8 L129.7 443.4 L132.3 443.4 L134.9 443.4 L137.6 443.4 L140.2 443.4 L142.8 443.4 L145.4 443.4 L148.1 432.7 L150.7 432.7 L153.3 432.7 L155.9 431.0 L158.5 431.0 L161.2 431.0 L163.8 431.0 L166.4 431.0 L169.0 431.0 L171.7 431.0 L174.3 429.9 L176.9 429.9 L179.5 429.9 L182.1 429.9 L184.8 429.9 L187.4 429.9 L190.0 429.9 L192.6 417.2 L195.3 417.2 L197.9 417.2 L200.5 417.2 L203.1 417.2 L205.7 417.2 L208.4 417.2 L211.0 409.9 L213.6 409.9 L216.2 409.9 L218.9 409.9 L221.5 405.4 L224.1 405.4 L226.7 405.4 L229.3 405.4 L232.0 405.4 L234.6 405.4 L237.2 405.4 L239.8 405.4 L242.5 397.0 L245.1 397.0 L247.7 397.0 L250.3 397.0 L252.9 397.0 L255.6 397.0 L258.2 397.0 L260.8 397.0 L263.4 397.0 L266.1 397.0 L268.7 397.0 L271.3 392.4 L273.9 392.4 L276.5 392.4 L279.2 392.4 L281.8 392.4 L284.4 387.7 L287.0 387.7 L289.7 387.7 L292.3 387.7 L294.9 387.7 L297.5 387.7 L300.1 387.7 L302.8 387.7 L305.4 387.7 L308.0 387.7 L310.6 383.8 L313.3 383.8 L315.9 383.8 L318.5 383.8 L321.1 383.8 L323.7 383.8 L326.4 383.8 L329.0 383.8 L331.6 378.3 L334.2 378.3 L336.9 378.3 L339.5 378.3 L342.1 378.3 L344.7 378.3 L347.3 378.3 L350.0 378.3 L352.6 371.4 L355.2 371.4 L357.8 371.4 L360.5 371.4 L363.1 371.4 L365.7 371.4 L368.3 371.4 L370.9 371.4 L373.6 371.4 L376.2 371.4 L378.8 365.8 L381.4 365.8 L384.1 365.8 L386.7 365.8 L389.3 365.8 L391.9 365.8 L394.5 365.8 L397.2 365.8 L399.8 362.8 L402.4 362.8 L405.0 362.8 L407.7 362.8 L410.3 362.8 L412.9 362.8 L415.5 362.8 L418.1 362.8 L420.8 362.8 L423.4 362.8 L426.0 362.8 L428.6 344.2 L431.3 344.2 L433.9 344.2 L436.5 344.2 L439.1 344.2 L441.7 344.2 L444.4 344.2 L447.0 344.2 L449.6 344.2 L452.2 344.2 L454.9 344.2 L457.5 344.2 L460.1 344.2 L462.7 344.2 L465.3 344.2 L468.0 344.2 L470.6 344.2 L473.2 344.2 L475.8 344.2 L478.5 344.2 L481.1 344.2 L483.7 344.2 L486.3 344.2 L488.9 344.2 L491.6 344.2 L494.2 344.2 L496.8 344.2 L499.4 344.2 L502.1 344.2 L504.7 344.2 L507.3 344.2 L509.9 344.2 L512.5 344.2 L515.2 344.2 L517.8 344.2 L520.4 344.2 L523.0 344.2 L525.7 344.2 L528.3 344.2 L530.9 344.2 L533.5 344.2 L536.1 344.2 L538.8 344.2 L541.4 344.2 L544.0 343.6 L546.6 343.1 L549.3 342.5 L551.9 342.0 L554.5 323.3 L557.1 323.3 L559.7 323.3 L562.4 323.3 L565.0 323.3 L567.6 323.3 L570.2 323.3 L572.9 323.3 L575.5 323.3 L578.1 323.3 L580.7 323.3 L583.3 323.3 L586.0 323.3 L588.6 323.3 L591.2 323.3 L593.8 321.2 L596.5 321.2 L599.1 321.2 L601.7 321.2 L604.3 321.2 L606.9 321.2 L609.6 321.2 L612.2 321.2 L614.8 321.2 L617.4 321.2 L620.1 321.2 L622.7 321.2 L625.3 321.2 L627.9 321.2 L630.5 313.0 L633.2 313.0 L635.8 313.0 L638.4 313.0 L641.0 313.0 L643.7 313.0 L646.3 313.0 L648.9 313.0 L651.5 313.0 L654.1 313.0 L656.8 313.0 L659.4 313.0 L662.0 313.0 L664.6 313.0 L667.3 313.0 L669.9 313.0 L672.5 302.4 L675.1 302.4 L677.7 302.4 L680.4 302.4 L683.0 302.4 L685.6 302.4 L688.2 302.4 L690.9 302.4 L693.5 302.4 L696.1 302.4 L698.7 302.4 L701.3 302.4 L704.0 302.4 L706.6 296.6 L709.2 296.6 L711.8 296.6 L714.5 296.6 L717.1 296.6 L719.7 296.6 L722.3 296.6 L724.9 296.6 L727.6 296.6 L730.2 296.6 L732.8 296.6 L735.4 296.6 L738.1 296.6 L740.7 293.4 L743.3 293.4 L745.9 293.4 L748.5 293.4 L751.2 293.4 L753.8 293.4 L756.4 293.4 L759.0 293.4 L761.7 293.4 L764.3 293.4 L766.9 293.4 L769.5 293.4 L772.1 292.8 L774.8 292.8 L777.4 292.8 L780.0 292.8 L782.6 292.8 L785.3 292.8 L787.9 292.8 L790.5 292.8 L793.1 292.8 L795.7 292.8 L798.4 292.8 L801.0 292.8 L803.6 292.8 L806.2 292.8 L808.9 282.0 L811.5 282.0 L814.1 282.0 L816.7 282.0 L819.3 282.0 L822.0 282.0 L824.6 282.0 L827.2 282.0 L829.8 282.0 L832.5 282.0 L835.1 282.0 L837.7 282.0 L840.3 282.0 L842.9 282.0 L845.6 282.0 L848.2 282.0 L850.8 282.0 L853.4 282.0 L856.1 282.0 L858.7 282.0 L861.3 282.0 L863.9 282.0 L866.5 282.0 L869.2 282.0 L871.8 282.0 L874.4 282.0 L877.0 282.0 L879.7 282.0 L882.3 282.0 L884.9 282.0 L887.5 282.0 L890.1 282.0 L892.8 282.0 L895.4 282.0 L898.0 282.0 L900.6 282.0 L903.3 282.0 L905.9 282.0 L908.5 277.1" stroke="#A4BCDE" stroke-width="3.9" fill="none" stroke-linejoin="round" stroke-linecap="round"/>
<path d="M72.0 509.5 L74.6 509.5 L77.3 504.5 L79.9 504.5 L82.5 504.5 L85.1 495.6 L87.7 495.6 L90.4 495.6 L93.0 491.7 L95.6 491.7 L98.2 483.4 L100.9 483.4 L103.5 477.7 L106.1 477.7 L108.7 472.9 L111.3 472.9 L114.0 472.9 L116.6 462.3 L119.2 462.3 L121.8 462.3 L124.5 462.3 L127.1 454.0 L129.7 454.0 L132.3 454.0 L134.9 454.0 L137.6 445.3 L140.2 445.3 L142.8 445.3 L145.4 445.3 L148.1 445.3 L150.7 445.3 L153.3 440.7 L155.9 440.7 L158.5 440.7 L161.2 440.7 L163.8 440.7 L166.4 435.4 L169.0 435.4 L171.7 435.4 L174.3 435.4 L176.9 435.4 L179.5 435.4 L182.1 435.4 L184.8 425.5 L187.4 425.5 L190.0 425.5 L192.6 425.5 L195.3 425.5 L197.9 421.5 L200.5 421.5 L203.1 421.5 L205.7 421.5 L208.4 421.5 L211.0 421.5 L213.6 411.9 L216.2 411.9 L218.9 411.9 L221.5 411.9 L224.1 411.9 L226.7 410.4 L229.3 410.4 L232.0 410.4 L234.6 410.4 L237.2 410.4 L239.8 410.4 L242.5 405.4 L245.1 405.4 L247.7 405.4 L250.3 405.4 L252.9 405.4 L255.6 405.4 L258.2 405.4 L260.8 405.4 L263.4 399.6 L266.1 399.6 L268.7 399.6 L271.3 399.6 L273.9 399.6 L276.5 399.6 L279.2 399.6 L281.8 399.6 L284.4 399.6 L287.0 399.6 L289.7 394.1 L292.3 394.1 L294.9 394.1 L297.5 394.1 L300.1 394.1 L302.8 394.1 L305.4 394.1 L308.0 394.1 L310.6 394.1 L313.3 394.1 L315.9 394.1 L318.5 388.6 L321.1 388.6 L323.7 388.6 L326.4 388.6 L329.0 388.6 L331.6 381.5 L334.2 381.5 L336.9 381.5 L339.5 381.5 L342.1 381.5 L344.7 381.5 L347.3 381.5 L350.0 381.5 L352.6 373.7 L355.2 373.7 L357.8 373.7 L360.5 373.7 L363.1 373.7 L365.7 373.7 L368.3 373.7 L370.9 373.7 L373.6 373.7 L376.2 373.7 L378.8 373.7 L381.4 373.7 L384.1 373.7 L386.7 373.7 L389.3 373.7 L391.9 373.7 L394.5 373.7 L397.2 373.7 L399.8 373.7 L402.4 373.7 L405.0 365.5 L407.7 365.5 L410.3 365.5 L412.9 365.5 L415.5 365.5 L418.1 365.5 L420.8 365.5 L423.4 365.5 L426.0 365.5 L428.6 365.5 L431.3 357.3 L433.9 357.3 L436.5 357.3 L439.1 357.3 L441.7 357.3 L444.4 357.3 L447.0 357.3 L449.6 357.3 L452.2 357.3 L454.9 357.3 L457.5 357.3 L460.1 357.3 L462.7 350.2 L465.3 350.2 L468.0 350.2 L470.6 350.2 L473.2 350.2 L475.8 350.2 L478.5 350.2 L481.1 350.2 L483.7 350.2 L486.3 350.2 L488.9 350.2 L491.6 350.2 L494.2 341.9 L496.8 341.9 L499.4 341.9 L502.1 341.9 L504.7 341.9 L507.3 341.9 L509.9 341.9 L512.5 341.9 L515.2 341.9 L517.8 341.9 L520.4 341.9 L523.0 339.5 L525.7 339.5 L528.3 339.5 L530.9 339.5 L533.5 339.5 L536.1 339.5 L538.8 339.5 L541.4 339.5 L544.0 339.5 L546.6 339.5 L549.3 339.5 L551.9 339.5 L554.5 329.4 L557.1 329.4 L559.7 329.4 L562.4 329.4 L565.0 329.4 L567.6 329.4 L570.2 329.4 L572.9 329.4 L575.5 329.4 L578.1 329.4 L580.7 329.4 L583.3 329.4 L586.0 329.4 L588.6 329.4 L591.2 329.4 L593.8 329.4 L596.5 319.9 L599.1 319.9 L601.7 319.9 L604.3 319.9 L606.9 319.9 L609.6 319.9 L612.2 319.9 L614.8 319.9 L617.4 319.9 L620.1 319.9 L622.7 319.9 L625.3 310.1 L627.9 310.1 L630.5 310.1 L633.2 310.1 L635.8 310.1 L638.4 310.1 L641.0 310.1 L643.7 310.1 L646.3 310.1 L648.9 310.1 L651.5 310.1 L654.1 310.1 L656.8 310.1 L659.4 310.1 L662.0 310.1 L664.6 310.1 L667.3 310.1 L669.9 310.1 L672.5 310.1 L675.1 310.1 L677.7 310.1 L680.4 310.1 L683.0 310.1 L685.6 310.1 L688.2 310.1 L690.9 310.1 L693.5 310.1 L696.1 310.1 L698.7 310.1 L701.3 310.1 L704.0 310.1 L706.6 310.1 L709.2 310.1 L711.8 310.1 L714.5 310.1 L717.1 310.1 L719.7 310.1 L722.3 310.1 L724.9 310.1 L727.6 310.1 L730.2 310.1 L732.8 309.9 L735.4 309.5 L738.1 296.9 L740.7 296.9 L743.3 296.9 L745.9 296.9 L748.5 296.9 L751.2 296.9 L753.8 296.9 L756.4 296.9 L759.0 296.9 L761.7 296.9 L764.3 296.9 L766.9 296.9 L769.5 296.9 L772.1 291.7 L774.8 291.7 L777.4 291.7 L780.0 291.7 L782.6 291.7 L785.3 291.7 L787.9 291.7 L790.5 291.7 L793.1 291.7 L795.7 291.7 L798.4 291.7 L801.0 291.7 L803.6 291.7 L806.2 291.7 L808.9 291.7 L811.5 291.7 L814.1 291.7 L816.7 291.7 L819.3 291.7 L822.0 291.7 L824.6 291.7 L827.2 291.7 L829.8 291.7 L832.5 291.7 L835.1 291.7 L837.7 291.7 L840.3 291.7 L842.9 291.7 L845.6 291.7 L848.2 291.7 L850.8 291.7 L853.4 291.7 L856.1 291.7 L858.7 291.7 L861.3 291.7 L863.9 291.7 L866.5 291.7 L869.2 291.7 L871.8 291.7 L874.4 291.7 L877.0 291.7 L879.7 291.7 L882.3 291.7 L884.9 291.7 L887.5 291.7 L890.1 291.7 L892.8 291.7 L895.4 291.7 L898.0 291.7 L900.6 291.7 L903.3 291.7 L905.9 291.7 L908.5 287.1" stroke="#EBAAAA" stroke-width="3.9" fill="none" stroke-linejoin="round" stroke-linecap="round"/>
<path d="M72.0 499.4 L74.6 499.4 L77.3 487.6 L79.9 487.6 L82.5 487.6 L85.1 485.1 L87.7 485.1 L90.4 480.0 L93.0 480.0 L95.6 472.3 L98.2 472.3 L100.9 472.3 L103.5 462.8 L106.1 462.8 L108.7 455.9 L111.3 455.9 L114.0 447.9 L116.6 447.9 L119.2 447.9 L121.8 441.3 L124.5 441.3 L127.1 441.3 L129.7 441.3 L132.3 432.1 L134.9 432.1 L137.6 432.1 L140.2 426.5 L142.8 426.5 L145.4 426.5 L148.1 426.5 L150.7 426.5 L153.3 426.5 L155.9 420.2 L158.5 420.2 L161.2 420.2 L163.8 420.2 L166.4 420.2 L169.0 420.2 L171.7 414.9 L174.3 414.9 L176.9 414.9 L179.5 414.9 L182.1 414.9 L184.8 414.9 L187.4 408.8 L190.0 408.8 L192.6 408.8 L195.3 408.8 L197.9 408.8 L200.5 408.8 L203.1 403.3 L205.7 403.3 L208.4 403.3 L211.0 403.3 L213.6 403.3 L216.2 398.5 L218.9 398.5 L221.5 398.5 L224.1 398.5 L226.7 398.5 L229.3 398.5 L232.0 398.5 L234.6 388.6 L237.2 388.6 L239.8 388.6 L242.5 388.6 L245.1 388.6 L247.7 388.6 L250.3 388.6 L252.9 388.6 L255.6 388.6 L258.2 388.6 L260.8 383.4 L263.4 383.4 L266.1 383.4 L268.7 383.4 L271.3 383.4 L273.9 383.4 L276.5 383.4 L279.2 381.9 L281.8 381.9 L284.4 381.9 L287.0 381.9 L289.7 381.9 L292.3 381.9 L294.9 371.8 L297.5 371.8 L300.1 371.8 L302.8 371.8 L305.4 371.8 L308.0 371.8 L310.6 371.8 L313.3 371.8 L315.9 371.8 L318.5 371.8 L321.1 370.0 L323.7 370.0 L326.4 370.0 L329.0 370.0 L331.6 370.0 L334.2 370.0 L336.9 370.0 L339.5 361.3 L342.1 361.3 L344.7 361.3 L347.3 361.3 L350.0 359.5 L352.6 359.5 L355.2 359.5 L357.8 359.5 L360.5 359.5 L363.1 359.5 L365.7 359.5 L368.3 359.5 L370.9 359.5 L373.6 359.5 L376.2 359.5 L378.8 359.5 L381.4 350.0 L384.1 350.0 L386.7 350.0 L389.3 350.0 L391.9 350.0 L394.5 350.0 L397.2 350.0 L399.8 350.0 L402.4 350.0 L405.0 350.0 L407.7 350.0 L410.3 350.0 L412.9 350.0 L415.5 350.0 L418.1 350.0 L420.8 350.0 L423.4 350.0 L426.0 350.0 L428.6 342.6 L431.3 342.6 L433.9 342.6 L436.5 342.6 L439.1 342.6 L441.7 342.6 L444.4 342.6 L447.0 342.6 L449.6 342.6 L452.2 342.6 L454.9 342.6 L457.5 342.6 L460.1 333.4 L462.7 333.4 L465.3 333.4 L468.0 333.4 L470.6 333.4 L473.2 333.4 L475.8 333.4 L478.5 333.4 L481.1 333.4 L483.7 333.4 L486.3 333.4 L488.9 333.4 L491.6 333.4 L494.2 333.4 L496.8 333.4 L499.4 333.4 L502.1 333.4 L504.7 333.4 L507.3 333.4 L509.9 333.4 L512.5 333.4 L515.2 333.4 L517.8 333.4 L520.4 333.4 L523.0 333.4 L525.7 333.4 L528.3 324.2 L530.9 324.2 L533.5 324.2 L536.1 324.2 L538.8 324.2 L541.4 324.2 L544.0 324.2 L546.6 324.2 L549.3 324.2 L551.9 324.2 L554.5 316.0 L557.1 316.0 L559.7 316.0 L562.4 316.0 L565.0 316.0 L567.6 316.0 L570.2 316.0 L572.9 316.0 L575.5 316.0 L578.1 316.0 L580.7 316.0 L583.3 316.0 L586.0 316.0 L588.6 316.0 L591.2 316.0 L593.8 316.0 L596.5 309.4 L599.1 309.4 L601.7 309.4 L604.3 309.4 L606.9 309.4 L609.6 309.4 L612.2 309.4 L614.8 309.4 L617.4 309.4 L620.1 309.4 L622.7 309.4 L625.3 309.4 L627.9 309.4 L630.5 297.1 L633.2 297.1 L635.8 297.1 L638.4 297.1 L641.0 297.1 L643.7 297.1 L646.3 297.1 L648.9 297.1 L651.5 297.1 L654.1 297.1 L656.8 297.1 L659.4 297.1 L662.0 297.1 L664.6 297.1 L667.3 297.1 L669.9 297.1 L672.5 297.1 L675.1 297.1 L677.7 297.1 L680.4 297.1 L683.0 297.1 L685.6 297.1 L688.2 297.1 L690.9 297.1 L693.5 297.1 L696.1 297.1 L698.7 297.1 L701.3 297.1 L704.0 297.1 L706.6 287.8 L709.2 287.8 L711.8 287.8 L714.5 287.8 L717.1 287.8 L719.7 287.8 L722.3 287.8 L724.9 287.8 L727.6 287.8 L730.2 287.8 L732.8 287.8 L735.4 283.4 L738.1 283.4 L740.7 283.4 L743.3 283.4 L745.9 283.4 L748.5 283.4 L751.2 283.4 L753.8 283.4 L756.4 283.4 L759.0 283.4 L761.7 283.4 L764.3 283.4 L766.9 283.4 L769.5 283.4 L772.1 279.9 L774.8 279.9 L777.4 279.9 L780.0 279.9 L782.6 279.9 L785.3 279.9 L787.9 279.9 L790.5 279.9 L793.1 279.9 L795.7 279.9 L798.4 279.9 L801.0 279.9 L803.6 279.9 L806.2 279.9 L808.9 279.9 L811.5 277.2 L814.1 277.2 L816.7 277.2 L819.3 277.2 L822.0 277.2 L824.6 277.2 L827.2 277.2 L829.8 277.2 L832.5 277.2 L835.1 277.2 L837.7 277.2 L840.3 277.2 L842.9 277.2 L845.6 277.2 L848.2 277.2 L850.8 269.3 L853.4 269.3 L856.1 269.3 L858.7 269.3 L861.3 269.3 L863.9 269.3 L866.5 269.3 L869.2 269.3 L871.8 269.3 L874.4 269.3 L877.0 269.3 L879.7 269.3 L882.3 269.3 L884.9 269.6 L887.5 269.6 L890.1 269.6 L892.8 269.6 L895.4 269.6 L898.0 269.6 L900.6 269.6 L903.3 269.6 L905.9 269.6 L908.5 266.0" stroke="#C6DDB0" stroke-width="3.9" fill="none" stroke-linejoin="round" stroke-linecap="round"/>
<path d="M72.0 506.0 L74.6 506.0 L77.3 506.0 L79.9 503.6 L82.5 503.6 L85.1 500.9 L87.7 500.9 L90.4 500.9 L93.0 489.0 L95.6 489.0 L98.2 488.6 L100.9 488.6 L103.5 479.0 L106.1 479.0 L108.7 479.0 L111.3 467.2 L114.0 467.2 L116.6 467.2 L119.2 467.2 L121.8 467.2 L124.5 454.9 L127.1 454.9 L129.7 454.9 L132.3 447.1 L134.9 447.1 L137.6 447.1 L140.2 447.1 L142.8 447.1 L145.4 447.1 L148.1 440.8 L150.7 440.8 L153.3 440.8 L155.9 435.4 L158.5 435.4 L161.2 435.4 L163.8 435.4 L166.4 435.4 L169.0 432.1 L171.7 432.1 L174.3 432.1 L176.9 432.1 L179.5 432.1 L182.1 426.5 L184.8 426.5 L187.4 426.5 L190.0 426.5 L192.6 419.3 L195.3 419.3 L197.9 419.3 L200.5 419.3 L203.1 419.3 L205.7 418.3 L208.4 418.3 L211.0 418.3 L213.6 418.3 L216.2 418.7 L218.9 418.7 L221.5 418.7 L224.1 418.7 L226.7 418.7 L229.3 418.7 L232.0 411.3 L234.6 411.3 L237.2 411.3 L239.8 411.3 L242.5 411.3 L245.1 411.3 L247.7 411.3 L250.3 411.3 L252.9 405.4 L255.6 405.4 L258.2 405.4 L260.8 405.4 L263.4 405.4 L266.1 405.4 L268.7 405.4 L271.3 405.4 L273.9 405.4 L276.5 396.3 L279.2 396.3 L281.8 396.3 L284.4 396.3 L287.0 396.3 L289.7 396.3 L292.3 396.3 L294.9 390.4 L297.5 390.4 L300.1 390.4 L302.8 390.4 L305.4 390.4 L308.0 390.4 L310.6 390.4 L313.3 390.4 L315.9 390.4 L318.5 390.4 L321.1 384.4 L323.7 384.4 L326.4 384.4 L329.0 384.4 L331.6 384.4 L334.2 384.4 L336.9 384.4 L339.5 384.4 L342.1 384.4 L344.7 384.4 L347.3 371.1 L350.0 371.1 L352.6 371.1 L355.2 371.1 L357.8 371.1 L360.5 371.1 L363.1 371.1 L365.7 371.1 L368.3 371.1 L370.9 371.1 L373.6 371.1 L376.2 371.1 L378.8 371.1 L381.4 371.1 L384.1 371.1 L386.7 371.1 L389.3 371.1 L391.9 371.1 L394.5 371.1 L397.2 371.1 L399.8 371.1 L402.4 371.1 L405.0 371.1 L407.7 371.1 L410.3 371.1 L412.9 371.1 L415.5 371.1 L418.1 371.1 L420.8 371.0 L423.4 370.5 L426.0 370.0 L428.6 369.5 L431.3 368.9 L433.9 368.4 L436.5 367.7 L439.1 366.9 L441.7 366.1 L444.4 365.3 L447.0 364.4 L449.6 363.6 L452.2 363.1 L454.9 362.7 L457.5 350.3 L460.1 350.3 L462.7 350.3 L465.3 350.3 L468.0 350.3 L470.6 350.3 L473.2 350.3 L475.8 350.3 L478.5 350.3 L481.1 350.3 L483.7 350.3 L486.3 350.3 L488.9 350.3 L491.6 350.3 L494.2 350.3 L496.8 350.3 L499.4 350.3 L502.1 350.3 L504.7 350.3 L507.3 350.3 L509.9 350.3 L512.5 350.3 L515.2 350.3 L517.8 350.2 L520.4 349.6 L523.0 348.9 L525.7 338.6 L528.3 338.6 L530.9 338.6 L533.5 338.6 L536.1 338.6 L538.8 338.6 L541.4 338.6 L544.0 338.6 L546.6 338.6 L549.3 338.6 L551.9 338.6 L554.5 338.6 L557.1 338.6 L559.7 335.3 L562.4 335.3 L565.0 335.3 L567.6 335.3 L570.2 335.3 L572.9 335.3 L575.5 335.3 L578.1 335.3 L580.7 335.3 L583.3 335.3 L586.0 335.3 L588.6 335.1 L591.2 334.7 L593.8 334.3 L596.5 324.7 L599.1 324.7 L601.7 324.7 L604.3 324.7 L606.9 324.7 L609.6 324.7 L612.2 324.7 L614.8 324.7 L617.4 324.7 L620.1 324.7 L622.7 324.7 L625.3 317.5 L627.9 317.5 L630.5 317.5 L633.2 317.5 L635.8 317.5 L638.4 317.5 L641.0 317.5 L643.7 317.5 L646.3 317.5 L648.9 317.5 L651.5 317.5 L654.1 317.5 L656.8 317.5 L659.4 317.5 L662.0 317.5 L664.6 317.5 L667.3 317.5 L669.9 317.5 L672.5 310.4 L675.1 310.4 L677.7 310.4 L680.4 310.4 L683.0 310.4 L685.6 310.4 L688.2 310.4 L690.9 310.4 L693.5 310.4 L696.1 310.4 L698.7 310.4 L701.3 300.4 L704.0 300.4 L706.6 300.4 L709.2 300.4 L711.8 300.4 L714.5 300.4 L717.1 300.4 L719.7 300.4 L722.3 300.4 L724.9 300.4 L727.6 300.4 L730.2 300.4 L732.8 300.4 L735.4 300.4 L738.1 300.4 L740.7 300.4 L743.3 300.4 L745.9 300.4 L748.5 300.4 L751.2 300.4 L753.8 300.4 L756.4 300.4 L759.0 300.4 L761.7 300.4 L764.3 300.4 L766.9 300.4 L769.5 300.4 L772.1 300.4 L774.8 300.4 L777.4 296.2 L780.0 296.2 L782.6 296.2 L785.3 296.2 L787.9 296.2 L790.5 296.2 L793.1 296.2 L795.7 296.2 L798.4 296.2 L801.0 296.2 L803.6 296.2 L806.2 296.2 L808.9 296.2 L811.5 289.3 L814.1 289.3 L816.7 289.3 L819.3 289.3 L822.0 289.3 L824.6 289.3 L827.2 289.3 L829.8 289.3 L832.5 289.3 L835.1 289.3 L837.7 289.3 L840.3 289.3 L842.9 289.3 L845.6 286.8 L848.2 286.8 L850.8 286.8 L853.4 286.8 L856.1 286.8 L858.7 286.8 L861.3 286.8 L863.9 286.8 L866.5 286.8 L869.2 286.8 L871.8 286.8 L874.4 286.8 L877.0 286.8 L879.7 286.8 L882.3 286.8 L884.9 286.8 L887.5 284.9 L890.1 284.9 L892.8 284.9 L895.4 284.9 L898.0 284.9 L900.6 284.9 L903.3 284.9 L905.9 284.9 L908.5 282.3" stroke="#C5B8D9" stroke-width="3.9" fill="none" stroke-linejoin="round" stroke-linecap="round"/>
<path d="M72.0 503.9 L74.6 503.9 L77.3 503.9 L79.9 499.1 L82.5 499.1 L85.1 497.8 L87.7 497.8 L90.4 497.8 L93.0 488.9 L95.6 488.9 L98.2 483.8 L100.9 483.8 L103.5 475.8 L106.1 475.8 L108.7 467.9 L111.3 467.9 L114.0 467.9 L116.6 461.8 L119.2 461.8 L121.8 461.8 L124.5 453.5 L127.1 453.5 L129.7 453.5 L132.3 446.6 L134.9 446.6 L137.6 446.6 L140.2 446.6 L142.8 446.6 L145.4 446.6 L148.1 446.6 L150.7 431.6 L153.3 431.6 L155.9 431.6 L158.5 431.6 L161.2 431.6 L163.8 431.6 L166.4 431.6 L169.0 430.1 L171.7 430.1 L174.3 430.1 L176.9 430.1 L179.5 430.1 L182.1 430.1 L184.8 421.5 L187.4 421.5 L190.0 421.5 L192.6 421.5 L195.3 421.5 L197.9 412.6 L200.5 412.6 L203.1 412.6 L205.7 412.6 L208.4 412.6 L211.0 412.6 L213.6 410.2 L216.2 410.2 L218.9 410.2 L221.5 404.8 L224.1 404.8 L226.7 404.8 L229.3 404.8 L232.0 404.8 L234.6 404.8 L237.2 404.8 L239.8 404.8 L242.5 404.8 L245.1 404.8 L247.7 404.8 L250.3 399.0 L252.9 399.0 L255.6 399.0 L258.2 399.0 L260.8 399.0 L263.4 399.0 L266.1 399.0 L268.7 392.5 L271.3 392.5 L273.9 392.5 L276.5 392.5 L279.2 392.5 L281.8 392.5 L284.4 392.5 L287.0 387.0 L289.7 387.0 L292.3 387.0 L294.9 387.0 L297.5 387.0 L300.1 387.0 L302.8 387.0 L305.4 387.0 L308.0 387.0 L310.6 387.0 L313.3 387.0 L315.9 382.2 L318.5 382.2 L321.1 382.2 L323.7 382.2 L326.4 382.2 L329.0 382.2 L331.6 382.2 L334.2 382.2 L336.9 374.6 L339.5 374.6 L342.1 374.6 L344.7 374.6 L347.3 374.6 L350.0 366.6 L352.6 366.6 L355.2 366.6 L357.8 366.6 L360.5 366.6 L363.1 366.6 L365.7 366.6 L368.3 366.6 L370.9 366.6 L373.6 366.6 L376.2 366.6 L378.8 366.6 L381.4 366.6 L384.1 366.6 L386.7 366.6 L389.3 366.6 L391.9 366.6 L394.5 366.6 L397.2 366.6 L399.8 366.6 L402.4 366.6 L405.0 366.6 L407.7 366.6 L410.3 366.6 L412.9 366.6 L415.5 366.6 L418.1 366.6 L420.8 366.6 L423.4 366.6 L426.0 366.6 L428.6 366.6 L431.3 354.7 L433.9 354.7 L436.5 354.7 L439.1 354.7 L441.7 354.7 L444.4 354.7 L447.0 354.7 L449.6 354.7 L452.2 354.7 L454.9 354.7 L457.5 345.2 L460.1 345.2 L462.7 345.2 L465.3 345.2 L468.0 345.2 L470.6 345.2 L473.2 345.2 L475.8 345.2 L478.5 345.2 L481.1 345.2 L483.7 345.2 L486.3 345.2 L488.9 345.2 L491.6 345.2 L494.2 336.9 L496.8 336.9 L499.4 336.9 L502.1 336.9 L504.7 336.9 L507.3 336.9 L509.9 336.9 L512.5 336.9 L515.2 336.9 L517.8 336.9 L520.4 336.9 L523.0 336.9 L525.7 336.9 L528.3 321.9 L530.9 321.9 L533.5 321.9 L536.1 321.9 L538.8 321.9 L541.4 321.9 L544.0 321.9 L546.6 321.9 L549.3 321.9 L551.9 321.9 L554.5 321.9 L557.1 321.9 L559.7 321.9 L562.4 321.9 L565.0 321.9 L567.6 321.9 L570.2 321.9 L572.9 321.9 L575.5 321.9 L578.1 321.9 L580.7 321.9 L583.3 321.9 L586.0 321.9 L588.6 321.9 L591.2 321.9 L593.8 321.9 L596.5 321.9 L599.1 321.9 L601.7 321.9 L604.3 321.9 L606.9 321.9 L609.6 321.9 L612.2 321.9 L614.8 321.9 L617.4 321.9 L620.1 321.9 L622.7 321.9 L625.3 321.9 L627.9 321.9 L630.5 321.9 L633.2 321.9 L635.8 321.9 L638.4 321.9 L641.0 321.9 L643.7 321.9 L646.3 321.9 L648.9 321.9 L651.5 321.9 L654.1 321.9 L656.8 321.9 L659.4 321.4 L662.0 320.9 L664.6 320.4 L667.3 319.8 L669.9 319.3 L672.5 304.1 L675.1 304.1 L677.7 304.1 L680.4 304.1 L683.0 304.1 L685.6 304.1 L688.2 304.1 L690.9 304.1 L693.5 304.1 L696.1 304.1 L698.7 304.1 L701.3 304.1 L704.0 298.3 L706.6 298.3 L709.2 298.3 L711.8 298.3 L714.5 298.3 L717.1 298.3 L719.7 298.3 L722.3 298.3 L724.9 298.3 L727.6 298.3 L730.2 298.3 L732.8 298.3 L735.4 298.3 L738.1 298.3 L740.7 287.8 L743.3 287.8 L745.9 287.8 L748.5 287.8 L751.2 287.8 L753.8 287.8 L756.4 287.8 L759.0 287.8 L761.7 287.8 L764.3 287.8 L766.9 287.8 L769.5 287.8 L772.1 287.8 L774.8 287.8 L777.4 287.8 L780.0 287.8 L782.6 287.8 L785.3 287.8 L787.9 287.8 L790.5 287.8 L793.1 287.8 L795.7 287.8 L798.4 287.8 L801.0 287.8 L803.6 287.8 L806.2 287.8 L808.9 287.8 L811.5 287.8 L814.1 286.4 L816.7 286.4 L819.3 286.4 L822.0 286.4 L824.6 286.4 L827.2 286.4 L829.8 286.4 L832.5 286.4 L835.1 286.4 L837.7 286.4 L840.3 286.4 L842.9 286.4 L845.6 277.8 L848.2 277.8 L850.8 277.8 L853.4 277.8 L856.1 277.8 L858.7 277.8 L861.3 277.8 L863.9 277.8 L866.5 277.8 L869.2 277.8 L871.8 277.8 L874.4 277.8 L877.0 277.8 L879.7 277.8 L882.3 277.8 L884.9 277.8 L887.5 277.8 L890.1 277.8 L892.8 277.8 L895.4 277.8 L898.0 277.8 L900.6 277.8 L903.3 277.8 L905.9 277.8 L908.5 276.0" stroke="#A8D6E4" stroke-width="1.3" fill="none" stroke-linejoin="round" stroke-linecap="round"/>
<rect x="183.6" y="286.6" width="132.8" height="59.5" fill="#fff" stroke="#000" stroke-width="1.6"/>
<text transform="translate(199.60,318.75) scale(1.0920,1)" font-family='"Liberation Serif", "Times New Roman", serif' font-size="28.30" fill="#000">13μm</text>
<line x1="326" y1="319.6" x2="482" y2="319.6" stroke="#000" stroke-width="1.5"/>
<path d="M319.6 319.6 L331 315.4 L331 323.8 Z" fill="#000"/>
<line x1="435.7" y1="302.5" x2="538.3" y2="302.5" stroke="#000" stroke-width="3"/>
<line x1="435.7" y1="346.4" x2="538.3" y2="346.4" stroke="#000" stroke-width="3"/>
<line x1="482" y1="302.5" x2="482" y2="346.4" stroke="#2a2a2a" stroke-width="1.6"/>
</svg></body></html>
